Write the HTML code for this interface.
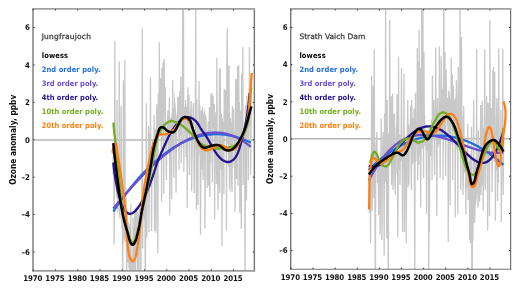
<!DOCTYPE html>
<html><head><meta charset="utf-8"><title>Ozone anomaly trends</title>
<style>
html,body{margin:0;padding:0;background:#fff;}
body{width:520px;height:290px;overflow:hidden;}
svg{display:block;}
text{font-family:"DejaVu Sans Condensed","DejaVu Sans","Liberation Sans",sans-serif;font-stretch:condensed;}
.tl{font-size:7.8px;font-weight:bold;fill:#111;}
.yl{font-size:8.2px;font-weight:bold;fill:#111;}
.tt{font-family:"DejaVu Sans","Liberation Sans",sans-serif;font-stretch:normal;font-size:7.5px;fill:#383838;stroke:#383838;stroke-width:0.25px;}
.lg{font-size:7.5px;font-weight:bold;}
</style></head><body>
<svg width="520" height="290" viewBox="0 0 520 290">
<rect width="520" height="290" fill="#fff"/>
<clipPath id="cL"><rect x="33.0" y="8.9" width="221.35" height="261.95000000000005"/></clipPath>
<g clip-path="url(#cL)">
<line x1="33.0" x2="254.35" y1="140.05" y2="140.05" stroke="#b6b6b6" stroke-width="1.5"/>
<path d="M113.00,174.6 L113.37,153.7 L113.74,152.0 L114.11,244.7 L114.48,162.3 L114.85,40.7 L115.22,165.4 L115.60,151.1 L115.97,170.9 L116.34,159.7 L116.71,197.4 L117.08,100.0 L117.45,200.0 L117.82,212.2 L118.19,180.8 L118.56,196.8 L118.93,178.3 L119.30,61.6 L119.67,214.2 L120.05,218.4 L120.42,178.2 L120.79,208.8 L121.16,106.0 L121.53,200.4 L121.90,228.9 L122.27,197.4 L122.64,300.0 L123.01,220.5 L123.38,80.2 L123.75,224.8 L124.12,234.6 L124.50,230.0 L124.87,60.1 L125.24,237.3 L125.61,241.7 L125.98,187.9 L126.35,246.2 L126.72,272.0 L127.09,210.1 L127.46,237.5 L127.83,262.7 L128.20,221.7 L128.57,245.1 L128.95,268.4 L129.32,226.1 L129.69,300.0 L130.06,224.0 L130.43,245.6 L130.80,203.8 L131.17,300.0 L131.54,262.8 L131.91,260.7 L132.28,265.2 L132.65,300.0 L133.03,217.6 L133.40,264.9 L133.77,227.0 L134.14,276.0 L134.51,230.2 L134.88,208.5 L135.25,300.0 L135.62,215.7 L135.99,245.2 L136.36,206.6 L136.73,223.2 L137.10,230.1 L137.47,300.0 L137.85,212.2 L138.22,220.6 L138.59,263.0 L138.96,300.0 L139.33,208.2 L139.70,218.0 L140.07,252.6 L140.44,208.4 L140.81,300.0 L141.18,228.1 L141.55,205.8 L141.93,185.6 L142.30,28.3 L142.67,248.6 L143.04,198.7 L143.41,190.9 L143.78,218.3 L144.15,194.8 L144.52,220.0 L144.89,199.9 L145.26,300.0 L145.63,232.0 L146.00,209.4 L146.38,103.5 L146.75,237.8 L147.12,203.5 L147.49,174.2 L147.86,193.6 L148.23,174.7 L148.60,126.0 L148.97,232.0 L149.34,181.4 L149.71,133.9 L150.08,186.2 L150.45,77.6 L150.82,160.5 L151.20,150.6 L151.57,231.0 L151.94,164.0 L152.31,168.2 L152.68,140.0 L153.05,166.1 L153.42,142.8 L153.79,160.1 L154.16,115.0 L154.53,231.0 L154.90,128.4 L155.28,155.6 L155.65,129.6 L156.02,233.0 L156.39,148.7 L156.76,104.3 L157.13,159.9 L157.50,120.3 L157.87,253.3 L158.24,93.4 L158.61,100.0 L158.98,136.5 L159.35,42.2 L159.72,124.7 L160.10,135.9 L160.47,114.6 L160.84,77.9 L161.21,121.6 L161.58,202.0 L161.95,68.3 L162.32,138.7 L162.69,139.4 L163.06,62.1 L163.43,117.2 L163.80,194.3 L164.18,59.0 L164.55,98.6 L164.92,111.3 L165.29,87.2 L165.66,134.5 L166.03,152.7 L166.40,180.0 L166.77,145.0 L167.14,140.3 L167.51,125.3 L167.88,110.5 L168.25,120.2 L168.62,148.1 L169.00,151.6 L169.37,97.3 L169.74,215.2 L170.11,129.0 L170.48,141.8 L170.85,117.5 L171.22,128.6 L171.59,199.0 L171.96,113.2 L172.33,148.0 L172.70,79.8 L173.07,139.5 L173.45,108.2 L173.82,178.0 L174.19,135.3 L174.56,101.2 L174.93,104.7 L175.30,109.7 L175.67,138.4 L176.04,192.8 L176.41,141.8 L176.78,117.8 L177.15,115.0 L177.53,131.4 L177.90,96.6 L178.27,102.1 L178.64,97.3 L179.01,170.0 L179.38,135.8 L179.75,91.3 L180.12,135.5 L180.49,109.8 L180.86,76.4 L181.23,163.0 L181.60,138.3 L181.98,138.9 L182.35,111.8 L182.72,-20.0 L183.09,106.4 L183.46,-20.0 L183.83,172.0 L184.20,112.3 L184.57,124.0 L184.94,107.0 L185.31,132.8 L185.68,100.0 L186.05,157.0 L186.43,113.2 L186.80,106.5 L187.17,208.3 L187.54,123.6 L187.91,87.0 L188.28,129.2 L188.65,134.2 L189.02,94.9 L189.39,175.0 L189.76,116.7 L190.13,131.6 L190.50,114.0 L190.88,111.6 L191.25,101.0 L191.62,191.2 L191.99,161.4 L192.36,136.0 L192.73,135.5 L193.10,109.0 L193.47,103.0 L193.84,140.6 L194.21,193.0 L194.58,143.9 L194.95,128.6 L195.32,148.6 L195.70,-20.0 L196.07,142.8 L196.44,209.8 L196.81,99.3 L197.18,142.6 L197.55,128.0 L197.92,205.0 L198.29,120.9 L198.66,155.4 L199.03,81.0 L199.40,133.7 L199.78,104.9 L200.15,151.5 L200.52,234.7 L200.89,155.1 L201.26,110.5 L201.63,169.2 L202.00,139.7 L202.37,106.9 L202.74,166.6 L203.11,180.0 L203.48,116.7 L203.85,114.3 L204.23,160.2 L204.60,111.6 L204.97,228.4 L205.34,153.3 L205.71,117.0 L206.08,118.0 L206.45,135.3 L206.82,140.1 L207.19,188.0 L207.56,152.7 L207.93,133.8 L208.30,121.0 L208.68,186.0 L209.05,133.5 L209.42,107.0 L209.79,197.0 L210.16,107.0 L210.53,163.2 L210.90,94.0 L211.27,116.9 L211.64,94.0 L212.01,94.0 L212.38,182.0 L212.75,97.0 L213.12,97.0 L213.50,128.4 L213.87,116.4 L214.24,104.0 L214.61,219.4 L214.98,140.8 L215.35,162.6 L215.72,112.3 L216.09,149.4 L216.46,184.0 L216.83,57.8 L217.20,149.1 L217.57,132.5 L217.95,209.8 L218.32,177.9 L218.69,184.8 L219.06,151.9 L219.43,68.3 L219.80,193.0 L220.17,68.3 L220.54,113.0 L220.91,169.0 L221.28,134.1 L221.65,114.0 L222.03,246.3 L222.40,118.6 L222.77,156.9 L223.14,169.9 L223.51,121.5 L223.88,194.0 L224.25,89.0 L224.62,129.6 L224.99,91.0 L225.36,91.0 L225.73,133.0 L226.10,91.0 L226.48,230.8 L226.85,66.0 L227.22,28.3 L227.59,121.5 L227.96,143.7 L228.33,65.5 L228.70,167.0 L229.07,65.5 L229.44,188.0 L229.81,189.2 L230.18,157.4 L230.55,118.0 L230.93,153.0 L231.30,122.8 L231.67,184.6 L232.04,192.0 L232.41,105.9 L232.78,166.6 L233.15,124.3 L233.52,108.8 L233.89,139.3 L234.26,129.8 L234.63,151.2 L235.00,212.1 L235.38,127.9 L235.75,79.7 L236.12,79.7 L236.49,179.0 L236.86,79.7 L237.23,108.2 L237.60,66.2 L237.97,186.0 L238.34,66.2 L238.71,66.2 L239.08,145.5 L239.45,101.9 L239.82,212.9 L240.20,110.5 L240.57,162.0 L240.94,110.2 L241.31,229.0 L241.68,74.5 L242.05,74.5 L242.42,130.6 L242.79,46.9 L243.16,185.0 L243.53,127.1 L243.90,149.3 L244.28,135.2 L244.65,122.3 L245.02,300.0 L245.39,105.4 L245.76,115.3 L246.13,109.0 L246.50,200.5 L246.87,95.6 L247.24,104.6 L247.61,113.4 L247.98,111.7 L248.35,180.0 L248.72,105.1 L249.10,126.7 L249.47,46.9 L249.84,119.9 L250.21,89.5 L250.58,175.0 L250.95,134.7 L251.32,81.3" stroke="#c8c8c8" stroke-width="1.3" fill="none" stroke-linejoin="miter" stroke-miterlimit="20"/>
<path d="M113.3,211.5 L114.5,209.8 L115.6,208.1 L116.8,206.4 L117.9,204.7 L119.1,203.1 L120.2,201.5 L121.4,199.9 L122.5,198.3 L123.7,196.7 L124.9,195.2 L126.0,193.6 L127.2,192.1 L128.3,190.6 L129.5,189.2 L130.6,187.7 L131.8,186.3 L132.9,184.9 L134.1,183.5 L135.3,182.1 L136.4,180.8 L137.6,179.4 L138.7,178.1 L139.9,176.8 L141.0,175.6 L142.2,174.3 L143.3,173.1 L144.5,171.9 L145.7,170.7 L146.8,169.5 L148.0,168.3 L149.1,167.2 L150.3,166.1 L151.4,165.0 L152.6,163.9 L153.7,162.8 L154.9,161.8 L156.1,160.8 L157.2,159.8 L158.4,158.8 L159.5,157.8 L160.7,156.9 L161.8,155.9 L163.0,155.0 L164.1,154.1 L165.3,153.3 L166.5,152.4 L167.6,151.6 L168.8,150.8 L169.9,150.0 L171.1,149.2 L172.2,148.5 L173.4,147.7 L174.5,147.0 L175.7,146.3 L176.9,145.7 L178.0,145.0 L179.2,144.4 L180.3,143.7 L181.5,143.1 L182.6,142.6 L183.8,142.0 L184.9,141.5 L186.1,140.9 L187.2,140.4 L188.4,140.0 L189.6,139.5 L190.7,139.1 L191.9,138.6 L193.0,138.2 L194.2,137.8 L195.3,137.5 L196.5,137.1 L197.6,136.8 L198.8,136.5 L200.0,136.2 L201.1,135.9 L202.3,135.7 L203.4,135.5 L204.6,135.2 L205.7,135.1 L206.9,134.9 L208.0,134.7 L209.2,134.6 L210.4,134.5 L211.5,134.4 L212.7,134.3 L213.8,134.2 L215.0,134.2 L216.1,134.2 L217.3,134.2 L218.4,134.2 L219.6,134.3 L220.8,134.3 L221.9,134.4 L223.1,134.5 L224.2,134.6 L225.4,134.7 L226.5,134.9 L227.7,135.1 L228.8,135.3 L230.0,135.5 L231.2,135.7 L232.3,136.0 L233.5,136.2 L234.6,136.5 L235.8,136.8 L236.9,137.2 L238.1,137.5 L239.2,137.9 L240.4,138.3 L241.6,138.7 L242.7,139.1 L243.9,139.6 L245.0,140.0 L246.2,140.5 L247.3,141.0 L248.5,141.5 L249.6,142.1 L250.8,142.6" stroke="#1f6fe0" stroke-width="2.3" fill="none" stroke-linejoin="round" stroke-linecap="butt"/>
<path d="M113.3,208.4 L114.5,207.0 L115.6,205.7 L116.8,204.3 L117.9,202.9 L119.1,201.6 L120.2,200.2 L121.4,198.9 L122.5,197.6 L123.7,196.2 L124.9,194.9 L126.0,193.6 L127.2,192.3 L128.3,191.0 L129.5,189.7 L130.6,188.4 L131.8,187.1 L132.9,185.8 L134.1,184.6 L135.3,183.3 L136.4,182.1 L137.6,180.8 L138.7,179.6 L139.9,178.4 L141.0,177.2 L142.2,176.0 L143.3,174.8 L144.5,173.6 L145.7,172.4 L146.8,171.3 L148.0,170.1 L149.1,169.0 L150.3,167.9 L151.4,166.7 L152.6,165.6 L153.7,164.6 L154.9,163.5 L156.1,162.4 L157.2,161.4 L158.4,160.4 L159.5,159.3 L160.7,158.3 L161.8,157.4 L163.0,156.4 L164.1,155.4 L165.3,154.5 L166.5,153.6 L167.6,152.6 L168.8,151.8 L169.9,150.9 L171.1,150.0 L172.2,149.2 L173.4,148.4 L174.5,147.5 L175.7,146.8 L176.9,146.0 L178.0,145.2 L179.2,144.5 L180.3,143.8 L181.5,143.1 L182.6,142.4 L183.8,141.8 L184.9,141.1 L186.1,140.5 L187.2,139.9 L188.4,139.3 L189.6,138.8 L190.7,138.2 L191.9,137.7 L193.0,137.2 L194.2,136.8 L195.3,136.3 L196.5,135.9 L197.6,135.5 L198.8,135.1 L200.0,134.8 L201.1,134.5 L202.3,134.2 L203.4,133.9 L204.6,133.6 L205.7,133.4 L206.9,133.2 L208.0,133.0 L209.2,132.9 L210.4,132.8 L211.5,132.7 L212.7,132.6 L213.8,132.5 L215.0,132.5 L216.1,132.5 L217.3,132.6 L218.4,132.6 L219.6,132.7 L220.8,132.8 L221.9,133.0 L223.1,133.2 L224.2,133.4 L225.4,133.6 L226.5,133.9 L227.7,134.2 L228.8,134.5 L230.0,134.9 L231.2,135.2 L232.3,135.7 L233.5,136.1 L234.6,136.6 L235.8,137.1 L236.9,137.7 L238.1,138.2 L239.2,138.8 L240.4,139.5 L241.6,140.2 L242.7,140.9 L243.9,141.6 L245.0,142.4 L246.2,143.2 L247.3,144.1 L248.5,145.0 L249.6,145.9 L250.8,146.8" stroke="#6a4fd0" stroke-width="2.3" fill="none" stroke-linejoin="round" stroke-linecap="butt"/>
<path d="M113.3,162.5 L113.4,163.2 L113.4,163.9 L113.5,164.6 L113.6,165.3 L113.7,166.0 L113.7,166.7 L113.8,167.4 L113.9,168.1 L114.0,168.8 L114.1,169.5 L114.2,170.2 L114.2,170.9 L114.3,171.6 L114.4,172.3 L114.5,173.0 L114.6,173.7 L114.7,174.3 L114.8,175.0 L114.9,175.7 L115.0,176.4 L115.1,177.1 L115.2,177.8 L115.3,178.5 L115.4,179.2 L115.6,179.9 L115.7,180.6 L115.8,181.3 L115.9,182.0 L116.0,182.7 L116.2,183.4 L116.3,184.0 L116.4,184.7 L116.6,185.4 L116.7,186.1 L116.8,186.8 L117.0,187.5 L117.1,188.2 L117.3,188.9 L117.4,189.5 L117.6,190.2 L117.7,190.9 L117.9,191.6 L118.1,192.3 L118.2,193.0 L118.4,193.6 L118.6,194.3 L118.8,195.0 L119.0,195.7 L119.1,196.4 L119.3,197.0 L119.5,197.7 L119.7,198.4 L119.9,199.1 L120.2,199.7 L120.4,200.4 L120.6,201.1 L120.8,201.7 L121.0,202.4 L121.3,203.1 L121.5,203.7 L121.8,204.4 L122.0,205.0 L122.3,205.7 L122.5,206.3 L122.8,207.0 L123.1,207.6 L123.4,208.2 L123.8,208.8 L124.1,209.4 L124.5,210.0 L124.9,210.6 L125.4,211.2 L125.9,211.7 L126.4,212.2 L127.0,212.7 L127.6,213.1 L128.3,213.4 L128.9,213.7 L129.6,213.8 L130.3,213.8 L131.0,213.7 L131.6,213.5 L132.3,213.2 L132.9,212.8 L133.5,212.4 L134.1,212.0 L134.7,211.6 L135.2,211.1 L135.7,210.6 L136.1,210.1 L136.6,209.5 L137.0,209.0 L137.5,208.4 L137.9,207.9 L138.3,207.3 L138.7,206.8 L139.1,206.2 L139.5,205.6 L139.9,205.0 L140.3,204.4 L140.6,203.8 L141.0,203.2 L141.3,202.6 L141.7,202.0 L142.0,201.4 L142.4,200.7 L142.7,200.1 L143.0,199.5 L143.4,198.9 L143.7,198.2 L144.0,197.6 L144.3,197.0 L144.6,196.4 L144.9,195.7 L145.2,195.1 L145.5,194.5 L145.8,193.8 L146.1,193.2 L146.4,192.5 L146.7,191.9 L147.0,191.3 L147.3,190.6 L147.6,190.0 L147.8,189.3 L148.1,188.7 L148.4,188.0 L148.6,187.4 L148.9,186.7 L149.2,186.1 L149.4,185.4 L149.7,184.8 L149.9,184.1 L150.2,183.5 L150.4,182.8 L150.7,182.1 L150.9,181.5 L151.2,180.8 L151.4,180.2 L151.7,179.5 L151.9,178.8 L152.1,178.2 L152.3,177.5 L152.6,176.9 L152.8,176.2 L153.0,175.5 L153.2,174.9 L153.5,174.2 L153.7,173.5 L153.9,172.9 L154.1,172.2 L154.3,171.5 L154.5,170.9 L154.8,170.2 L155.0,169.5 L155.2,168.8 L155.4,168.2 L155.6,167.5 L155.8,166.8 L156.0,166.2 L156.3,165.5 L156.5,164.8 L156.7,164.2 L157.0,163.5 L157.2,162.9 L157.4,162.2 L157.7,161.5 L157.9,160.9 L158.2,160.2 L158.4,159.6 L158.7,158.9 L158.9,158.3 L159.2,157.6 L159.5,157.0 L159.7,156.3 L160.0,155.7 L160.3,155.0 L160.6,154.4 L160.8,153.7 L161.1,153.1 L161.4,152.5 L161.7,151.8 L162.0,151.2 L162.3,150.5 L162.6,149.9 L162.8,149.3 L163.1,148.6 L163.4,148.0 L163.7,147.3 L164.0,146.7 L164.3,146.1 L164.6,145.4 L164.9,144.8 L165.2,144.1 L165.5,143.5 L165.7,142.9 L166.0,142.2 L166.3,141.6 L166.6,140.9 L166.9,140.3 L167.2,139.7 L167.5,139.0 L167.8,138.4 L168.1,137.8 L168.4,137.1 L168.7,136.5 L169.1,135.9 L169.4,135.3 L169.7,134.6 L170.1,134.0 L170.4,133.4 L170.8,132.8 L171.1,132.2 L171.5,131.6 L171.9,131.0 L172.2,130.4 L172.6,129.8 L173.0,129.2 L173.4,128.7 L173.8,128.1 L174.2,127.5 L174.6,126.9 L175.0,126.4 L175.4,125.8 L175.9,125.3 L176.3,124.7 L176.8,124.2 L177.2,123.6 L177.7,123.1 L178.2,122.6 L178.7,122.1 L179.2,121.6 L179.7,121.1 L180.2,120.6 L180.7,120.2 L181.3,119.7 L181.9,119.3 L182.4,118.9 L183.0,118.5 L183.7,118.2 L184.3,117.9 L184.9,117.6 L185.6,117.4 L186.3,117.3 L187.0,117.2 L187.7,117.2 L188.4,117.2 L189.1,117.3 L189.8,117.4 L190.5,117.6 L191.2,117.9 L191.8,118.2 L192.4,118.5 L193.0,118.9 L193.6,119.3 L194.1,119.7 L194.7,120.2 L195.2,120.6 L195.7,121.1 L196.2,121.6 L196.7,122.2 L197.1,122.7 L197.5,123.3 L197.9,123.8 L198.3,124.4 L198.7,125.0 L199.0,125.6 L199.4,126.2 L199.7,126.8 L200.1,127.5 L200.4,128.1 L200.8,128.7 L201.2,129.3 L201.6,129.8 L202.0,130.4 L202.4,131.0 L202.8,131.6 L203.2,132.1 L203.6,132.7 L204.1,133.2 L204.5,133.8 L204.9,134.4 L205.3,134.9 L205.7,135.5 L206.1,136.1 L206.5,136.7 L206.8,137.3 L207.2,137.9 L207.6,138.5 L207.9,139.1 L208.3,139.7 L208.6,140.3 L209.0,140.9 L209.3,141.5 L209.7,142.1 L210.0,142.8 L210.3,143.4 L210.7,144.0 L211.0,144.6 L211.3,145.2 L211.7,145.8 L212.0,146.5 L212.4,147.1 L212.7,147.7 L213.1,148.3 L213.4,148.9 L213.8,149.5 L214.2,150.1 L214.5,150.7 L214.9,151.3 L215.3,151.9 L215.7,152.5 L216.1,153.0 L216.5,153.6 L216.9,154.2 L217.3,154.7 L217.7,155.3 L218.2,155.8 L218.6,156.4 L219.1,156.9 L219.6,157.4 L220.0,157.9 L220.6,158.4 L221.1,158.9 L221.6,159.3 L222.2,159.8 L222.8,160.2 L223.4,160.5 L224.0,160.9 L224.7,161.2 L225.4,161.5 L226.0,161.7 L226.7,161.9 L227.4,162.0 L228.1,162.0 L228.8,162.0 L229.5,161.8 L230.2,161.6 L230.8,161.4 L231.5,161.0 L232.1,160.6 L232.7,160.2 L233.2,159.8 L233.8,159.3 L234.3,158.8 L234.7,158.2 L235.2,157.7 L235.6,157.1 L236.0,156.5 L236.3,155.9 L236.7,155.3 L237.0,154.7 L237.3,154.0 L237.6,153.4 L237.9,152.7 L238.1,152.1 L238.4,151.4 L238.6,150.8 L238.9,150.1 L239.1,149.4 L239.3,148.8 L239.5,148.1 L239.7,147.4 L239.9,146.8 L240.1,146.1 L240.3,145.4 L240.5,144.7 L240.7,144.1 L240.9,143.4 L241.1,142.7 L241.2,142.0 L241.4,141.4 L241.6,140.7 L241.8,140.0 L242.0,139.3 L242.2,138.6 L242.3,138.0 L242.5,137.3 L242.7,136.6 L242.9,135.9 L243.1,135.2 L243.2,134.6 L243.4,133.9 L243.6,133.2 L243.8,132.5 L243.9,131.8 L244.1,131.2 L244.3,130.5 L244.4,129.8 L244.6,129.1 L244.7,128.4 L244.9,127.7 L245.0,127.1 L245.2,126.4 L245.3,125.7 L245.4,125.0 L245.6,124.3 L245.7,123.6 L245.8,122.9 L245.9,122.2 L246.1,121.5 L246.2,120.8 L246.3,120.2 L246.4,119.5 L246.5,118.8 L246.6,118.1 L246.7,117.4 L246.8,116.7 L247.0,116.0 L247.1,115.3 L247.2,114.6 L247.3,113.9 L247.4,113.2 L247.5,112.5 L247.6,111.8 L247.7,111.1 L247.8,110.4 L247.9,109.7 L248.0,109.0 L248.1,108.4 L248.1,107.7 L248.2,107.0 L248.3,106.3 L248.4,105.6 L248.5,104.9 L248.6,104.2 L248.7,103.5 L248.7,102.8 L248.8,102.1 L248.9,101.4 L249.0,100.7 L249.1,100.0 L249.1,99.3 L249.2,98.6 L249.3,97.9 L249.3,97.2 L249.4,96.5 L249.5,95.8 L249.5,95.1 L249.6,94.4 L249.6,93.7 L249.7,93.0" stroke="#24128f" stroke-width="2.3" fill="none" stroke-linejoin="round" stroke-linecap="butt"/>
<path d="M113.5,122.5 L113.5,123.2 L113.6,123.9 L113.6,124.6 L113.6,125.3 L113.7,126.0 L113.7,126.7 L113.8,127.4 L113.9,128.1 L113.9,128.8 L114.0,129.5 L114.1,130.2 L114.1,130.9 L114.2,131.6 L114.3,132.3 L114.4,133.0 L114.4,133.7 L114.5,134.4 L114.6,135.1 L114.7,135.8 L114.8,136.5 L114.9,137.2 L115.0,137.9 L115.0,138.6 L115.1,139.3 L115.2,139.9 L115.3,140.6 L115.4,141.3 L115.5,142.0 L115.5,142.7 L115.6,143.4 L115.7,144.1 L115.8,144.8 L115.9,145.5 L115.9,146.2 L116.0,146.9 L116.1,147.6 L116.1,148.3 L116.2,149.0 L116.2,149.7 L116.3,150.4 L116.3,151.1 L116.4,151.8 L116.5,152.5 L116.5,153.2 L116.6,153.9 L116.6,154.6 L116.7,155.3 L116.7,156.0 L116.8,156.7 L116.8,157.4 L116.9,158.1 L117.0,158.8 L117.0,159.5 L117.1,160.2 L117.1,160.9 L117.2,161.6 L117.3,162.3 L117.3,163.0 L117.4,163.7 L117.5,164.4 L117.6,165.1 L117.6,165.8 L117.7,166.5 L117.8,167.2 L117.8,167.9 L117.9,168.6 L118.0,169.3 L118.1,170.0 L118.1,170.7 L118.2,171.4 L118.3,172.1 L118.4,172.8 L118.4,173.5 L118.5,174.2 L118.6,174.9 L118.7,175.5 L118.7,176.2 L118.8,176.9 L118.9,177.6 L119.0,178.3 L119.0,179.0 L119.1,179.7 L119.2,180.4 L119.2,181.1 L119.3,181.8 L119.4,182.5 L119.5,183.2 L119.5,183.9 L119.6,184.6 L119.7,185.3 L119.7,186.0 L119.8,186.7 L119.9,187.4 L119.9,188.1 L120.0,188.8 L120.1,189.5 L120.1,190.2 L120.2,190.9 L120.3,191.6 L120.3,192.3 L120.4,193.0 L120.5,193.7 L120.5,194.4 L120.6,195.1 L120.7,195.8 L120.7,196.5 L120.8,197.2 L120.9,197.9 L120.9,198.6 L121.0,199.3 L121.1,200.0 L121.1,200.7 L121.2,201.4 L121.3,202.1 L121.3,202.8 L121.4,203.5 L121.5,204.2 L121.6,204.9 L121.7,205.6 L121.7,206.3 L121.8,207.0 L121.9,207.7 L122.0,208.4 L122.1,209.0 L122.2,209.7 L122.3,210.4 L122.4,211.1 L122.6,211.8 L122.7,212.5 L122.8,213.2 L122.9,213.9 L123.1,214.6 L123.2,215.2 L123.4,215.9 L123.5,216.6 L123.7,217.3 L123.8,218.0 L124.0,218.6 L124.2,219.3 L124.3,220.0 L124.5,220.7 L124.7,221.4 L124.9,222.0 L125.1,222.7 L125.2,223.4 L125.4,224.1 L125.6,224.8 L125.8,225.4 L126.0,226.1 L126.2,226.8 L126.5,227.5 L126.7,228.2 L126.9,228.9 L127.1,229.5 L127.3,230.2 L127.5,230.9 L127.7,231.6 L127.9,232.2 L128.2,232.9 L128.4,233.6 L128.6,234.2 L128.8,234.9 L129.0,235.6 L129.2,236.2 L129.4,236.8 L129.5,237.5 L129.7,238.1 L129.9,238.8 L130.2,239.4 L130.4,240.0 L130.7,240.7 L131.1,241.4 L131.6,242.0 L132.1,242.7 L132.6,243.0 L133.1,242.9 L133.6,242.4 L134.1,241.6 L134.5,240.9 L134.9,240.2 L135.2,239.5 L135.5,238.9 L135.7,238.2 L135.9,237.6 L136.1,236.9 L136.3,236.3 L136.4,235.7 L136.6,235.0 L136.8,234.4 L136.9,233.8 L137.1,233.1 L137.3,232.4 L137.5,231.8 L137.6,231.1 L137.8,230.4 L138.0,229.7 L138.2,229.1 L138.4,228.4 L138.6,227.7 L138.8,227.0 L138.9,226.3 L139.1,225.6 L139.3,224.9 L139.5,224.2 L139.6,223.5 L139.8,222.8 L139.9,222.1 L140.1,221.4 L140.2,220.7 L140.3,220.1 L140.5,219.4 L140.6,218.7 L140.8,218.0 L140.9,217.3 L141.0,216.6 L141.1,215.9 L141.3,215.2 L141.4,214.6 L141.5,213.9 L141.7,213.2 L141.8,212.5 L141.9,211.8 L142.1,211.1 L142.2,210.5 L142.4,209.8 L142.5,209.1 L142.7,208.4 L142.8,207.7 L143.0,207.0 L143.1,206.4 L143.3,205.7 L143.4,205.0 L143.6,204.3 L143.8,203.6 L143.9,202.9 L144.1,202.3 L144.2,201.6 L144.4,200.9 L144.6,200.2 L144.7,199.5 L144.9,198.8 L145.1,198.2 L145.2,197.5 L145.4,196.8 L145.5,196.1 L145.7,195.4 L145.9,194.7 L146.0,194.1 L146.2,193.4 L146.3,192.7 L146.5,192.0 L146.6,191.3 L146.8,190.6 L146.9,189.9 L147.1,189.3 L147.2,188.6 L147.4,187.9 L147.5,187.2 L147.7,186.5 L147.8,185.8 L148.0,185.1 L148.1,184.5 L148.2,183.8 L148.4,183.1 L148.5,182.4 L148.7,181.7 L148.8,181.0 L148.9,180.3 L149.1,179.6 L149.2,179.0 L149.4,178.3 L149.5,177.6 L149.6,176.9 L149.8,176.2 L149.9,175.5 L150.0,174.8 L150.2,174.1 L150.3,173.5 L150.4,172.8 L150.6,172.1 L150.7,171.4 L150.8,170.7 L151.0,170.0 L151.1,169.3 L151.2,168.6 L151.4,167.9 L151.5,167.3 L151.6,166.6 L151.8,165.9 L151.9,165.2 L152.0,164.5 L152.2,163.8 L152.3,163.1 L152.4,162.4 L152.5,161.7 L152.7,161.1 L152.8,160.4 L152.9,159.7 L153.1,159.0 L153.2,158.3 L153.3,157.6 L153.5,156.9 L153.6,156.2 L153.7,155.5 L153.9,154.9 L154.0,154.2 L154.1,153.5 L154.3,152.8 L154.4,152.1 L154.5,151.4 L154.7,150.7 L154.8,150.0 L154.9,149.3 L155.1,148.7 L155.2,148.0 L155.3,147.3 L155.5,146.6 L155.6,145.9 L155.7,145.2 L155.9,144.5 L156.0,143.8 L156.2,143.2 L156.3,142.5 L156.5,141.8 L156.7,141.1 L156.9,140.4 L157.0,139.7 L157.2,139.1 L157.4,138.4 L157.6,137.7 L157.8,137.1 L158.1,136.4 L158.3,135.7 L158.6,135.1 L158.8,134.4 L159.1,133.8 L159.4,133.1 L159.6,132.5 L160.0,131.9 L160.3,131.2 L160.6,130.6 L160.9,130.0 L161.3,129.4 L161.7,128.8 L162.0,128.2 L162.4,127.6 L162.8,127.0 L163.3,126.4 L163.7,125.9 L164.2,125.3 L164.6,124.8 L165.1,124.3 L165.7,123.8 L166.2,123.4 L166.8,122.9 L167.3,122.5 L167.9,122.2 L168.6,121.8 L169.2,121.5 L169.9,121.3 L170.6,121.1 L171.3,121.0 L172.0,121.0 L172.7,121.1 L173.3,121.3 L174.0,121.6 L174.7,121.8 L175.3,122.1 L176.0,122.4 L176.6,122.7 L177.2,123.0 L177.9,123.3 L178.5,123.6 L179.1,123.9 L179.8,124.2 L180.4,124.5 L181.0,124.9 L181.6,125.2 L182.1,125.6 L182.7,126.0 L183.3,126.4 L183.8,126.9 L184.4,127.3 L184.9,127.7 L185.5,128.2 L186.0,128.7 L186.6,129.1 L187.1,129.6 L187.6,130.1 L188.1,130.6 L188.6,131.1 L189.1,131.5 L189.6,132.0 L190.1,132.5 L190.6,133.0 L191.1,133.5 L191.6,134.0 L192.1,134.5 L192.6,135.0 L193.1,135.5 L193.5,136.0 L194.0,136.6 L194.5,137.1 L194.9,137.6 L195.4,138.2 L195.9,138.7 L196.3,139.2 L196.8,139.8 L197.2,140.3 L197.7,140.8 L198.2,141.3 L198.7,141.8 L199.2,142.3 L199.7,142.8 L200.3,143.2 L200.8,143.6 L201.4,144.0 L202.0,144.4 L202.6,144.7 L203.2,145.1 L203.9,145.4 L204.5,145.7 L205.2,145.9 L205.8,146.2 L206.5,146.4 L207.1,146.7 L207.8,146.9 L208.5,147.1 L209.2,147.2 L209.9,147.4 L210.5,147.5 L211.2,147.7 L211.9,147.8 L212.6,148.0 L213.3,148.1 L214.0,148.2 L214.7,148.3 L215.4,148.4 L216.1,148.4 L216.8,148.5 L217.5,148.5 L218.2,148.5 L218.9,148.5 L219.6,148.5 L220.3,148.5 L221.0,148.4 L221.7,148.4 L222.4,148.3 L223.1,148.2 L223.8,148.1 L224.5,148.0 L225.2,147.9 L225.9,147.8 L226.5,147.7 L227.2,147.6 L227.9,147.4 L228.6,147.3 L229.3,147.2 L230.0,147.0 L230.7,146.8 L231.4,146.7 L232.1,146.5 L232.8,146.3 L233.4,146.1 L234.1,145.8 L234.7,145.5 L235.3,145.2 L235.9,144.9 L236.5,144.5 L237.0,144.0 L237.5,143.6 L238.0,143.1 L238.5,142.6 L239.0,142.0 L239.4,141.5 L239.8,140.9 L240.2,140.3 L240.6,139.7 L241.0,139.1 L241.4,138.4 L241.7,137.8 L242.1,137.2 L242.5,136.6 L242.8,135.9 L243.1,135.3 L243.5,134.7 L243.8,134.1 L244.1,133.4 L244.4,132.8 L244.7,132.1 L245.0,131.5 L245.2,130.9 L245.5,130.2 L245.7,129.6 L246.0,128.9 L246.2,128.3 L246.4,127.6 L246.7,127.0 L246.9,126.3 L247.1,125.6 L247.2,125.0 L247.4,124.3 L247.6,123.6 L247.7,122.9 L247.9,122.2 L248.0,121.6 L248.2,120.9 L248.3,120.2 L248.4,119.5 L248.5,118.8 L248.6,118.1 L248.7,117.4 L248.8,116.7 L248.9,116.0 L249.0,115.3 L249.1,114.6 L249.1,113.9 L249.2,113.2 L249.3,112.5 L249.3,111.8 L249.4,111.1 L249.4,110.3 L249.5,109.6 L249.5,108.9 L249.6,108.2 L249.6,107.5 L249.7,106.8 L249.7,106.1 L249.7,105.4 L249.8,104.6 L249.8,103.9 L249.8,103.2 L249.9,102.5 L249.9,101.8 L250.0,101.1 L250.0,100.4 L250.0,99.7 L250.1,99.0 L250.1,98.3 L250.2,97.6 L250.2,96.9 L250.3,96.2 L250.4,95.5 L250.4,94.8 L250.5,94.1 L250.5,93.4 L250.6,92.7 L250.7,92.0 L250.8,91.4 L250.9,90.7 L251.0,90.0 L251.1,89.3 L251.2,88.7 L251.3,88.0" stroke="#72ad1e" stroke-width="2.3" fill="none" stroke-linejoin="round" stroke-linecap="butt"/>
<path d="M113.0,152.0 L112.7,152.3 L112.6,152.1 L112.6,151.7 L112.7,151.0 L112.8,150.2 L113.1,149.1 L113.4,148.1 L113.8,147.0 L114.1,145.9 L114.5,145.0 L114.9,144.2 L115.2,143.7 L115.6,143.5 L115.8,143.6 L116.1,143.9 L116.3,144.5 L116.4,145.3 L116.6,146.2 L116.7,147.1 L116.8,148.1 L116.9,149.1 L117.0,150.1 L117.1,151.0 L117.2,151.8 L117.3,152.6 L117.4,153.3 L117.5,154.0 L117.6,154.7 L117.7,155.4 L117.8,156.0 L117.9,156.6 L118.0,157.2 L118.1,157.8 L118.2,158.4 L118.3,159.0 L118.4,159.6 L118.5,160.2 L118.6,160.8 L118.7,161.4 L118.8,162.1 L119.0,162.7 L119.1,163.4 L119.2,164.1 L119.3,164.7 L119.4,165.4 L119.5,166.1 L119.6,166.8 L119.7,167.5 L119.8,168.3 L119.9,169.0 L120.0,169.7 L120.1,170.4 L120.2,171.1 L120.4,171.9 L120.5,172.6 L120.6,173.3 L120.7,174.0 L120.8,174.8 L120.9,175.5 L121.0,176.2 L121.1,176.9 L121.2,177.6 L121.3,178.3 L121.4,179.0 L121.5,179.7 L121.6,180.4 L121.6,181.1 L121.7,181.8 L121.8,182.5 L121.9,183.2 L122.0,183.9 L122.1,184.6 L122.2,185.3 L122.3,186.0 L122.4,186.7 L122.5,187.4 L122.6,188.1 L122.7,188.8 L122.8,189.4 L122.8,190.1 L122.9,190.8 L123.0,191.5 L123.1,192.2 L123.2,192.9 L123.3,193.6 L123.4,194.3 L123.5,194.9 L123.6,195.6 L123.7,196.3 L123.8,197.0 L123.9,197.7 L124.0,198.4 L124.1,199.1 L124.2,199.8 L124.3,200.5 L124.3,201.2 L124.4,201.9 L124.5,202.6 L124.6,203.3 L124.7,204.0 L124.8,204.7 L124.9,205.4 L125.0,206.1 L125.1,206.8 L125.1,207.5 L125.2,208.2 L125.3,208.9 L125.4,209.6 L125.5,210.3 L125.5,211.0 L125.6,211.7 L125.7,212.4 L125.7,213.1 L125.8,213.7 L125.9,214.4 L125.9,215.1 L126.0,215.8 L126.0,216.5 L126.1,217.2 L126.1,217.9 L126.1,218.6 L126.2,219.3 L126.2,220.0 L126.3,220.7 L126.3,221.4 L126.3,222.1 L126.3,222.8 L126.4,223.5 L126.4,224.2 L126.4,224.9 L126.5,225.6 L126.5,226.3 L126.5,227.0 L126.5,227.7 L126.6,228.4 L126.6,229.1 L126.6,229.8 L126.6,230.5 L126.7,231.2 L126.7,231.9 L126.7,232.6 L126.8,233.3 L126.8,234.0 L126.8,234.7 L126.9,235.4 L126.9,236.1 L127.0,236.8 L127.0,237.5 L127.1,238.2 L127.1,239.0 L127.2,239.7 L127.2,240.4 L127.3,241.1 L127.4,241.8 L127.4,242.5 L127.5,243.2 L127.6,243.9 L127.7,244.6 L127.7,245.4 L127.8,246.1 L127.9,246.8 L128.0,247.5 L128.1,248.2 L128.2,248.8 L128.3,249.5 L128.4,250.2 L128.4,250.9 L128.5,251.5 L128.6,252.2 L128.7,252.9 L128.8,253.5 L128.9,254.2 L129.1,254.8 L129.2,255.5 L129.4,256.1 L129.6,256.8 L129.9,257.5 L130.1,258.2 L130.5,258.9 L130.9,259.6 L131.3,260.4 L131.8,261.0 L132.3,261.3 L132.8,261.4 L133.4,261.0 L133.9,260.5 L134.3,259.8 L134.7,259.0 L135.1,258.3 L135.4,257.6 L135.6,256.9 L135.8,256.3 L136.0,255.6 L136.2,254.9 L136.3,254.3 L136.4,253.6 L136.5,253.0 L136.6,252.3 L136.6,251.7 L136.7,251.0 L136.8,250.3 L137.0,249.6 L137.1,249.0 L137.2,248.3 L137.3,247.6 L137.4,246.9 L137.5,246.2 L137.7,245.5 L137.8,244.8 L137.9,244.1 L138.0,243.4 L138.2,242.7 L138.3,242.0 L138.4,241.3 L138.5,240.6 L138.6,239.9 L138.7,239.2 L138.8,238.5 L138.9,237.8 L139.0,237.1 L139.1,236.4 L139.2,235.7 L139.3,235.0 L139.4,234.3 L139.5,233.6 L139.6,232.9 L139.6,232.2 L139.7,231.5 L139.8,230.8 L139.9,230.1 L139.9,229.4 L140.0,228.7 L140.1,228.0 L140.1,227.3 L140.2,226.6 L140.2,225.9 L140.3,225.2 L140.4,224.5 L140.4,223.8 L140.5,223.1 L140.5,222.4 L140.6,221.7 L140.6,221.0 L140.7,220.3 L140.8,219.6 L140.8,218.9 L140.9,218.2 L140.9,217.5 L141.0,216.8 L141.0,216.1 L141.1,215.4 L141.1,214.7 L141.2,214.0 L141.3,213.3 L141.3,212.6 L141.4,211.9 L141.4,211.3 L141.5,210.6 L141.6,209.9 L141.6,209.2 L141.7,208.5 L141.8,207.8 L141.8,207.1 L141.9,206.4 L142.0,205.7 L142.0,205.0 L142.1,204.3 L142.2,203.6 L142.2,202.9 L142.3,202.2 L142.4,201.5 L142.5,200.8 L142.6,200.1 L142.6,199.4 L142.7,198.7 L142.8,198.0 L142.9,197.3 L143.0,196.6 L143.1,195.9 L143.1,195.2 L143.2,194.5 L143.3,193.8 L143.4,193.1 L143.5,192.4 L143.6,191.7 L143.7,191.0 L143.8,190.3 L143.9,189.6 L144.0,188.9 L144.1,188.2 L144.2,187.6 L144.3,186.9 L144.4,186.2 L144.5,185.5 L144.6,184.8 L144.7,184.1 L144.8,183.4 L144.9,182.7 L145.1,182.0 L145.2,181.3 L145.3,180.6 L145.4,179.9 L145.5,179.2 L145.7,178.5 L145.8,177.8 L145.9,177.1 L146.0,176.5 L146.2,175.8 L146.3,175.1 L146.4,174.4 L146.6,173.7 L146.7,173.0 L146.8,172.3 L147.0,171.6 L147.1,170.9 L147.2,170.2 L147.4,169.6 L147.5,168.9 L147.7,168.2 L147.8,167.5 L148.0,166.8 L148.1,166.1 L148.3,165.4 L148.4,164.7 L148.5,164.1 L148.7,163.4 L148.8,162.7 L149.0,162.0 L149.1,161.3 L149.3,160.6 L149.4,159.9 L149.6,159.3 L149.7,158.6 L149.9,157.9 L150.0,157.2 L150.2,156.5 L150.3,155.8 L150.5,155.2 L150.6,154.5 L150.8,153.8 L150.9,153.1 L151.0,152.4 L151.2,151.7 L151.4,151.1 L151.5,150.4 L151.7,149.7 L151.8,149.0 L152.0,148.3 L152.2,147.7 L152.4,147.0 L152.6,146.3 L152.8,145.6 L153.0,145.0 L153.2,144.3 L153.4,143.6 L153.7,143.0 L154.0,142.3 L154.2,141.7 L154.5,141.0 L154.8,140.4 L155.1,139.7 L155.5,139.1 L155.9,138.4 L156.2,137.8 L156.7,137.2 L157.1,136.7 L157.6,136.2 L158.1,135.7 L158.7,135.3 L159.3,135.0 L159.9,134.7 L160.6,134.5 L161.3,134.4 L162.0,134.3 L162.7,134.3 L163.4,134.3 L164.1,134.3 L164.8,134.3 L165.5,134.2 L166.2,134.1 L166.9,133.9 L167.6,133.7 L168.2,133.4 L168.9,133.1 L169.5,132.8 L170.1,132.4 L170.7,132.1 L171.3,131.7 L171.9,131.3 L172.5,130.9 L173.0,130.4 L173.5,130.0 L174.0,129.5 L174.5,129.0 L174.9,128.4 L175.4,127.9 L175.8,127.3 L176.2,126.7 L176.6,126.2 L177.1,125.6 L177.5,125.0 L177.9,124.5 L178.3,124.0 L178.8,123.4 L179.2,122.9 L179.7,122.4 L180.2,121.9 L180.7,121.3 L181.2,120.8 L181.7,120.3 L182.2,119.8 L182.8,119.3 L183.4,118.9 L184.0,118.6 L184.7,118.5 L185.4,118.5 L186.1,118.6 L186.7,118.9 L187.4,119.2 L187.9,119.7 L188.4,120.2 L188.8,120.8 L189.2,121.4 L189.6,122.0 L189.9,122.6 L190.3,123.2 L190.6,123.9 L190.9,124.5 L191.2,125.1 L191.5,125.8 L191.7,126.4 L192.0,127.1 L192.3,127.7 L192.5,128.4 L192.7,129.0 L193.0,129.7 L193.2,130.4 L193.4,131.0 L193.7,131.7 L193.9,132.3 L194.1,133.0 L194.3,133.7 L194.6,134.3 L194.8,135.0 L195.0,135.6 L195.3,136.3 L195.5,137.0 L195.8,137.6 L196.0,138.3 L196.3,138.9 L196.5,139.6 L196.8,140.2 L197.1,140.8 L197.4,141.5 L197.7,142.1 L198.0,142.8 L198.4,143.4 L198.7,144.0 L199.1,144.6 L199.4,145.3 L199.8,145.9 L200.3,146.4 L200.7,147.0 L201.2,147.5 L201.6,148.1 L202.2,148.5 L202.7,149.0 L203.3,149.3 L203.9,149.7 L204.6,149.9 L205.2,150.2 L205.9,150.3 L206.6,150.3 L207.3,150.3 L208.0,150.2 L208.7,150.1 L209.4,149.9 L210.0,149.6 L210.7,149.3 L211.3,149.0 L211.9,148.6 L212.5,148.2 L213.1,147.9 L213.7,147.5 L214.3,147.1 L215.0,146.7 L215.6,146.4 L216.2,146.1 L216.9,145.8 L217.5,145.6 L218.2,145.4 L218.9,145.3 L219.6,145.2 L220.3,145.2 L221.0,145.3 L221.7,145.4 L222.3,145.6 L223.0,145.9 L223.6,146.2 L224.2,146.5 L224.8,146.9 L225.4,147.3 L226.0,147.7 L226.6,148.1 L227.2,148.4 L227.8,148.8 L228.4,149.1 L229.1,149.4 L229.8,149.6 L230.5,149.7 L231.2,149.8 L231.9,149.8 L232.6,149.7 L233.3,149.6 L233.9,149.3 L234.5,149.0 L235.1,148.6 L235.6,148.1 L236.1,147.6 L236.6,147.0 L237.0,146.5 L237.4,145.9 L237.8,145.3 L238.2,144.7 L238.6,144.1 L238.9,143.5 L239.3,142.9 L239.6,142.3 L239.9,141.6 L240.2,141.0 L240.5,140.4 L240.8,139.7 L241.1,139.1 L241.4,138.5 L241.7,137.8 L241.9,137.2 L242.2,136.5 L242.5,135.9 L242.8,135.2 L243.0,134.6 L243.3,133.9 L243.6,133.3 L243.8,132.6 L244.1,132.0 L244.3,131.3 L244.6,130.6 L244.8,130.0 L245.0,129.3 L245.3,128.7 L245.5,128.0 L245.7,127.3 L245.9,126.6 L246.1,126.0 L246.3,125.3 L246.5,124.6 L246.6,123.9 L246.8,123.3 L246.9,122.6 L247.1,121.9 L247.2,121.2 L247.4,120.5 L247.5,119.8 L247.6,119.1 L247.7,118.4 L247.8,117.7 L247.9,117.1 L248.1,116.4 L248.1,115.7 L248.2,115.0 L248.3,114.3 L248.4,113.6 L248.5,112.9 L248.6,112.2 L248.7,111.5 L248.7,110.8 L248.8,110.1 L248.9,109.4 L248.9,108.7 L249.0,108.0 L249.1,107.3 L249.1,106.6 L249.2,105.9 L249.3,105.2 L249.3,104.5 L249.4,103.8 L249.4,103.1 L249.5,102.4 L249.6,101.7 L249.6,101.0 L249.7,100.3 L249.7,99.6 L249.8,98.9 L249.8,98.2 L249.9,97.5 L250.0,96.8 L250.0,96.1 L250.1,95.4 L250.1,94.7 L250.2,94.0 L250.2,93.3 L250.3,92.6 L250.3,91.9 L250.4,91.2 L250.5,90.5 L250.5,89.8 L250.6,89.1 L250.6,88.4 L250.7,87.7 L250.7,87.0 L250.8,86.3 L250.8,85.6 L250.9,84.9 L250.9,84.2 L251.0,83.5 L251.0,82.8 L251.1,82.1 L251.1,81.4 L251.2,80.7 L251.2,80.0 L251.3,79.3 L251.3,78.6 L251.4,77.9 L251.4,77.2 L251.5,76.5 L251.5,75.8 L251.6,75.1 L251.6,74.4 L251.7,73.7 L251.7,73.0" stroke="#ff7f12" stroke-width="2.3" fill="none" stroke-linejoin="round" stroke-linecap="butt"/>
<path d="M113.3,143.0 L113.4,143.7 L113.4,144.4 L113.5,145.1 L113.6,145.8 L113.6,146.5 L113.7,147.2 L113.8,147.9 L113.8,148.6 L113.9,149.3 L114.0,150.0 L114.0,150.7 L114.1,151.4 L114.2,152.1 L114.3,152.8 L114.3,153.5 L114.4,154.2 L114.5,154.9 L114.6,155.6 L114.6,156.3 L114.7,157.0 L114.8,157.7 L114.9,158.4 L115.0,159.1 L115.0,159.7 L115.1,160.4 L115.2,161.1 L115.3,161.8 L115.4,162.5 L115.4,163.2 L115.5,163.9 L115.6,164.6 L115.7,165.3 L115.8,166.0 L115.9,166.7 L115.9,167.4 L116.0,168.1 L116.1,168.8 L116.2,169.5 L116.3,170.2 L116.4,170.9 L116.5,171.6 L116.6,172.3 L116.6,173.0 L116.7,173.7 L116.8,174.4 L116.9,175.1 L117.0,175.8 L117.1,176.5 L117.2,177.2 L117.3,177.9 L117.4,178.5 L117.5,179.2 L117.5,179.9 L117.6,180.6 L117.7,181.3 L117.8,182.0 L117.9,182.7 L118.0,183.4 L118.1,184.1 L118.2,184.8 L118.3,185.5 L118.4,186.2 L118.5,186.9 L118.6,187.6 L118.7,188.3 L118.8,189.0 L118.9,189.7 L119.0,190.4 L119.1,191.1 L119.1,191.8 L119.2,192.5 L119.3,193.1 L119.4,193.8 L119.5,194.5 L119.6,195.2 L119.7,195.9 L119.8,196.6 L119.9,197.3 L120.0,198.0 L120.1,198.7 L120.2,199.4 L120.3,200.1 L120.4,200.8 L120.5,201.5 L120.6,202.2 L120.7,202.9 L120.8,203.6 L121.0,204.3 L121.1,205.0 L121.2,205.7 L121.3,206.4 L121.4,207.0 L121.5,207.7 L121.6,208.4 L121.8,209.1 L121.9,209.8 L122.0,210.5 L122.1,211.2 L122.3,211.9 L122.4,212.5 L122.5,213.2 L122.7,213.9 L122.8,214.6 L123.0,215.3 L123.1,216.0 L123.3,216.6 L123.4,217.3 L123.6,218.0 L123.7,218.7 L123.9,219.4 L124.1,220.0 L124.2,220.7 L124.4,221.4 L124.6,222.1 L124.8,222.8 L125.0,223.5 L125.1,224.1 L125.3,224.8 L125.5,225.5 L125.7,226.2 L125.9,226.9 L126.1,227.6 L126.3,228.3 L126.5,228.9 L126.7,229.6 L126.9,230.3 L127.1,231.0 L127.3,231.7 L127.5,232.4 L127.7,233.0 L127.9,233.7 L128.1,234.4 L128.3,235.0 L128.4,235.7 L128.6,236.3 L128.7,237.0 L128.9,237.6 L129.0,238.3 L129.2,238.9 L129.4,239.6 L129.6,240.2 L129.8,240.9 L130.1,241.6 L130.4,242.3 L130.8,243.0 L131.3,243.8 L131.8,244.3 L132.3,244.7 L132.8,244.8 L133.3,244.5 L133.8,244.0 L134.3,243.3 L134.7,242.6 L135.1,241.9 L135.4,241.2 L135.7,240.5 L135.9,239.8 L136.1,239.2 L136.3,238.6 L136.5,237.9 L136.7,237.3 L136.8,236.7 L137.0,236.0 L137.2,235.4 L137.3,234.7 L137.5,234.0 L137.6,233.3 L137.8,232.7 L138.0,232.0 L138.1,231.3 L138.3,230.6 L138.4,229.9 L138.6,229.2 L138.7,228.5 L138.9,227.8 L139.0,227.1 L139.2,226.4 L139.3,225.7 L139.5,225.0 L139.6,224.3 L139.7,223.6 L139.8,222.9 L140.0,222.2 L140.1,221.5 L140.2,220.8 L140.3,220.1 L140.4,219.4 L140.5,218.8 L140.6,218.1 L140.8,217.4 L140.9,216.7 L141.0,216.0 L141.1,215.3 L141.2,214.6 L141.3,213.9 L141.5,213.2 L141.6,212.6 L141.7,211.9 L141.8,211.2 L142.0,210.5 L142.1,209.8 L142.2,209.1 L142.4,208.4 L142.5,207.8 L142.6,207.1 L142.8,206.4 L142.9,205.7 L143.1,205.0 L143.2,204.3 L143.4,203.6 L143.5,202.9 L143.6,202.3 L143.8,201.6 L143.9,200.9 L144.1,200.2 L144.2,199.5 L144.4,198.8 L144.5,198.1 L144.7,197.4 L144.8,196.8 L145.0,196.1 L145.1,195.4 L145.3,194.7 L145.4,194.0 L145.6,193.3 L145.7,192.6 L145.8,191.9 L146.0,191.3 L146.1,190.6 L146.3,189.9 L146.4,189.2 L146.5,188.5 L146.7,187.8 L146.8,187.1 L146.9,186.4 L147.1,185.8 L147.2,185.1 L147.4,184.4 L147.5,183.7 L147.6,183.0 L147.7,182.3 L147.9,181.6 L148.0,180.9 L148.1,180.2 L148.3,179.6 L148.4,178.9 L148.5,178.2 L148.6,177.5 L148.8,176.8 L148.9,176.1 L149.0,175.4 L149.1,174.7 L149.3,174.0 L149.4,173.3 L149.5,172.7 L149.6,172.0 L149.8,171.3 L149.9,170.6 L150.0,169.9 L150.1,169.2 L150.2,168.5 L150.4,167.8 L150.5,167.1 L150.6,166.4 L150.7,165.7 L150.8,165.0 L150.9,164.3 L151.0,163.7 L151.1,163.0 L151.3,162.3 L151.4,161.6 L151.5,160.9 L151.6,160.2 L151.7,159.5 L151.8,158.8 L151.9,158.1 L152.0,157.4 L152.1,156.7 L152.2,156.0 L152.3,155.3 L152.5,154.7 L152.6,154.0 L152.7,153.3 L152.8,152.6 L152.9,151.9 L153.1,151.2 L153.2,150.5 L153.3,149.8 L153.5,149.1 L153.6,148.4 L153.7,147.8 L153.9,147.1 L154.0,146.4 L154.2,145.7 L154.4,145.0 L154.5,144.3 L154.7,143.6 L154.9,143.0 L155.1,142.3 L155.3,141.6 L155.4,140.9 L155.6,140.2 L155.8,139.6 L156.1,138.9 L156.3,138.2 L156.5,137.5 L156.7,136.9 L156.9,136.2 L157.1,135.5 L157.3,134.9 L157.5,134.2 L157.7,133.6 L157.9,132.9 L158.1,132.3 L158.3,131.6 L158.5,130.9 L158.8,130.2 L159.1,129.5 L159.4,128.9 L159.8,128.3 L160.3,127.7 L160.9,127.4 L161.5,127.2 L162.2,127.1 L163.0,127.3 L163.6,127.6 L164.2,128.0 L164.7,128.4 L165.2,128.9 L165.7,129.5 L166.2,130.0 L166.7,130.4 L167.3,130.8 L167.9,131.1 L168.5,131.5 L169.2,131.7 L169.9,132.0 L170.6,132.2 L171.3,132.3 L172.0,132.4 L172.7,132.4 L173.4,132.2 L173.9,131.9 L174.5,131.5 L174.9,131.0 L175.3,130.3 L175.7,129.7 L176.1,129.0 L176.5,128.4 L176.8,127.7 L177.1,127.1 L177.4,126.5 L177.7,125.9 L178.0,125.2 L178.3,124.6 L178.6,124.0 L179.0,123.4 L179.3,122.8 L179.6,122.2 L180.0,121.5 L180.4,120.9 L180.8,120.2 L181.2,119.5 L181.7,118.9 L182.2,118.4 L182.7,117.9 L183.2,117.5 L183.8,117.2 L184.4,117.0 L185.1,117.0 L185.8,117.1 L186.4,117.3 L187.1,117.6 L187.8,118.0 L188.4,118.5 L188.9,119.0 L189.4,119.5 L189.8,120.1 L190.2,120.7 L190.5,121.3 L190.8,121.9 L191.0,122.6 L191.2,123.3 L191.4,124.0 L191.6,124.7 L191.8,125.4 L192.0,126.1 L192.2,126.8 L192.3,127.5 L192.5,128.1 L192.8,128.8 L193.0,129.5 L193.2,130.2 L193.4,130.8 L193.7,131.5 L193.9,132.2 L194.2,132.8 L194.5,133.5 L194.7,134.1 L195.0,134.7 L195.3,135.4 L195.6,136.0 L195.8,136.6 L196.1,137.3 L196.4,137.9 L196.7,138.5 L196.9,139.2 L197.2,139.8 L197.5,140.4 L197.8,141.0 L198.2,141.6 L198.5,142.3 L198.9,142.9 L199.3,143.5 L199.7,144.1 L200.1,144.7 L200.6,145.3 L201.1,145.9 L201.7,146.4 L202.2,146.9 L202.8,147.3 L203.4,147.6 L204.1,147.7 L204.7,147.8 L205.4,147.8 L206.1,147.6 L206.8,147.4 L207.5,147.2 L208.2,146.9 L208.8,146.7 L209.4,146.4 L210.1,146.2 L210.7,145.9 L211.4,145.7 L212.1,145.6 L212.8,145.4 L213.5,145.3 L214.2,145.2 L214.9,145.1 L215.6,145.0 L216.3,145.0 L217.1,145.0 L217.8,145.1 L218.5,145.2 L219.1,145.4 L219.7,145.7 L220.3,146.1 L220.9,146.4 L221.4,146.9 L222.0,147.4 L222.5,147.8 L223.1,148.3 L223.6,148.8 L224.2,149.2 L224.8,149.6 L225.5,149.9 L226.1,150.2 L226.8,150.4 L227.5,150.6 L228.2,150.6 L228.8,150.6 L229.5,150.4 L230.2,150.2 L230.9,150.0 L231.5,149.7 L232.2,149.3 L232.8,148.9 L233.4,148.5 L233.9,148.0 L234.4,147.6 L234.9,147.1 L235.4,146.5 L235.9,146.0 L236.3,145.5 L236.7,144.9 L237.1,144.3 L237.5,143.7 L237.9,143.1 L238.3,142.5 L238.7,141.9 L239.0,141.3 L239.4,140.7 L239.7,140.1 L240.1,139.5 L240.4,138.9 L240.7,138.3 L241.1,137.6 L241.4,137.0 L241.7,136.4 L242.0,135.8 L242.3,135.1 L242.6,134.5 L242.9,133.9 L243.2,133.2 L243.5,132.6 L243.7,131.9 L244.0,131.3 L244.3,130.6 L244.5,130.0 L244.8,129.3 L245.0,128.7 L245.2,128.0 L245.5,127.3 L245.7,126.7 L245.9,126.0 L246.1,125.3 L246.3,124.7 L246.5,124.0 L246.7,123.3 L246.9,122.6 L247.1,122.0 L247.3,121.3 L247.5,120.6 L247.7,119.9 L247.9,119.3 L248.1,118.6 L248.2,117.9 L248.4,117.2 L248.6,116.5 L248.8,115.9 L248.9,115.2 L249.1,114.5 L249.3,113.8 L249.5,113.1 L249.6,112.5 L249.8,111.8 L250.0,111.1 L250.2,110.4 L250.4,109.8 L250.6,109.1 L250.8,108.4 L251.0,107.7 L251.2,107.1 L251.4,106.4" stroke="#000000" stroke-width="2.5" fill="none" stroke-linejoin="round" stroke-linecap="butt"/>
</g>
<line x1="33.0" x2="33.0" y1="7.95" y2="271.80" stroke="#a0a0a0" stroke-width="2.0"/>
<line x1="254.35" x2="254.35" y1="7.95" y2="271.80" stroke="#747474" stroke-width="1.4"/>
<line x1="32.00" x2="255.05" y1="8.9" y2="8.9" stroke="#a0a0a0" stroke-width="1.9"/>
<line x1="32.00" x2="255.05" y1="270.85" y2="270.85" stroke="#9c9c9c" stroke-width="1.9"/>
<path d="M33.30,270.55v-1.3M33.30,9.20v1.3M55.55,270.55v-1.3M55.55,9.20v1.3M77.80,270.55v-1.3M77.80,9.20v1.3M100.05,270.55v-1.3M100.05,9.20v1.3M122.30,270.55v-1.3M122.30,9.20v1.3M144.55,270.55v-1.3M144.55,9.20v1.3M166.80,270.55v-1.3M166.80,9.20v1.3M189.05,270.55v-1.3M189.05,9.20v1.3M211.30,270.55v-1.3M211.30,9.20v1.3M233.55,270.55v-1.3M233.55,9.20v1.3M33.30,251.95h1.3M254.05,251.95h-1.3M33.30,214.55h1.3M254.05,214.55h-1.3M33.30,177.15h1.3M254.05,177.15h-1.3M33.30,139.75h1.3M254.05,139.75h-1.3M33.30,102.35h1.3M254.05,102.35h-1.3M33.30,64.95h1.3M254.05,64.95h-1.3M33.30,27.55h1.3M254.05,27.55h-1.3" stroke="#2a2a2a" stroke-width="1"/>
<text class="tl" x="32.8" y="281.2" text-anchor="middle" textLength="19.3" lengthAdjust="spacing">1970</text>
<text class="tl" x="55.0" y="281.2" text-anchor="middle" textLength="19.3" lengthAdjust="spacing">1975</text>
<text class="tl" x="77.3" y="281.2" text-anchor="middle" textLength="19.3" lengthAdjust="spacing">1980</text>
<text class="tl" x="99.5" y="281.2" text-anchor="middle" textLength="19.3" lengthAdjust="spacing">1985</text>
<text class="tl" x="121.8" y="281.2" text-anchor="middle" textLength="19.3" lengthAdjust="spacing">1990</text>
<text class="tl" x="144.1" y="281.2" text-anchor="middle" textLength="19.3" lengthAdjust="spacing">1995</text>
<text class="tl" x="166.3" y="281.2" text-anchor="middle" textLength="19.3" lengthAdjust="spacing">2000</text>
<text class="tl" x="188.6" y="281.2" text-anchor="middle" textLength="19.3" lengthAdjust="spacing">2005</text>
<text class="tl" x="210.8" y="281.2" text-anchor="middle" textLength="19.3" lengthAdjust="spacing">2010</text>
<text class="tl" x="233.1" y="281.2" text-anchor="middle" textLength="19.3" lengthAdjust="spacing">2015</text>
<text class="tl" x="29.9" y="254.80" text-anchor="end">–6</text>
<text class="tl" x="29.9" y="217.40" text-anchor="end">–4</text>
<text class="tl" x="29.9" y="180.00" text-anchor="end">–2</text>
<text class="tl" x="29.9" y="142.60" text-anchor="end">0</text>
<text class="tl" x="29.9" y="105.20" text-anchor="end">2</text>
<text class="tl" x="29.9" y="67.80" text-anchor="end">4</text>
<text class="tl" x="29.9" y="30.40" text-anchor="end">6</text>
<text class="yl" transform="translate(15.6,139.8) rotate(-90)" text-anchor="middle" textLength="90" lengthAdjust="spacing">Ozone anomaly, ppbv</text>
<text class="tt" x="41.7" y="39.4" textLength="49.2" lengthAdjust="spacing">Jungfraujoch</text>
<text class="lg" x="41.7" y="57.9" fill="#000000" textLength="26.4" lengthAdjust="spacing">lowess</text>
<text class="lg" x="41.7" y="72.0" fill="#1f6fe0" textLength="58.8" lengthAdjust="spacing">2nd order poly.</text>
<text class="lg" x="41.7" y="86.1" fill="#6a4fd0" textLength="56.5" lengthAdjust="spacing">3rd order poly.</text>
<text class="lg" x="41.7" y="100.1" fill="#24128f" textLength="56.5" lengthAdjust="spacing">4th order poly.</text>
<text class="lg" x="41.7" y="114.2" fill="#72ad1e" textLength="61.6" lengthAdjust="spacing">10th order poly.</text>
<text class="lg" x="41.7" y="128.3" fill="#ff7f12" textLength="61.6" lengthAdjust="spacing">20th order poly.</text>
<clipPath id="cR"><rect x="290.7" y="8.9" width="219.90000000000003" height="260.40000000000003"/></clipPath>
<g clip-path="url(#cR)">
<line x1="290.7" x2="510.6" y1="138.85" y2="138.85" stroke="#b6b6b6" stroke-width="1.5"/>
<path d="M368.70,184.6 L369.07,166.0 L369.44,213.0 L369.81,200.0 L370.17,177.5 L370.54,243.2 L370.91,154.2 L371.28,183.8 L371.65,75.6 L372.01,211.0 L372.38,192.0 L372.75,163.1 L373.12,85.7 L373.49,155.8 L373.86,197.7 L374.22,48.9 L374.59,145.7 L374.96,199.3 L375.33,300.0 L375.70,179.2 L376.07,146.9 L376.44,148.6 L376.80,132.0 L377.17,154.9 L377.54,183.3 L377.91,178.4 L378.28,159.8 L378.64,215.0 L379.01,160.1 L379.38,167.5 L379.75,178.2 L380.12,235.0 L380.49,158.8 L380.86,157.0 L381.22,118.3 L381.59,154.1 L381.96,240.0 L382.33,185.0 L382.70,164.7 L383.06,132.1 L383.43,167.7 L383.80,170.2 L384.17,255.6 L384.54,113.6 L384.91,151.5 L385.27,182.3 L385.64,-20.0 L386.01,169.0 L386.38,149.5 L386.75,238.5 L387.12,100.0 L387.49,163.7 L387.85,132.9 L388.22,300.0 L388.59,168.7 L388.96,134.8 L389.33,160.8 L389.69,19.7 L390.06,142.1 L390.43,160.4 L390.80,145.2 L391.17,96.0 L391.54,185.0 L391.90,138.4 L392.27,166.4 L392.64,93.4 L393.01,190.0 L393.38,157.9 L393.75,114.3 L394.12,169.1 L394.48,113.6 L394.85,180.8 L395.22,195.0 L395.59,143.1 L395.96,174.4 L396.32,127.4 L396.69,135.8 L397.06,93.9 L397.43,140.4 L397.80,237.0 L398.17,189.5 L398.53,57.0 L398.90,168.2 L399.27,168.9 L399.64,134.5 L400.01,185.0 L400.38,139.9 L400.75,160.9 L401.11,139.6 L401.48,67.8 L401.85,133.8 L402.22,166.1 L402.59,232.0 L402.95,141.1 L403.32,167.7 L403.69,139.2 L404.06,74.0 L404.43,232.0 L404.80,143.0 L405.16,164.5 L405.53,168.6 L405.90,158.0 L406.27,243.2 L406.64,164.0 L407.01,139.2 L407.38,130.3 L407.74,99.7 L408.11,187.4 L408.48,124.6 L408.85,185.0 L409.22,149.4 L409.58,134.1 L409.95,127.9 L410.32,135.4 L410.69,105.9 L411.06,162.5 L411.43,190.0 L411.79,100.1 L412.16,164.8 L412.53,140.6 L412.90,162.7 L413.27,118.0 L413.64,143.9 L414.00,108.4 L414.37,164.9 L414.74,300.0 L415.11,141.2 L415.48,92.8 L415.85,161.4 L416.21,123.0 L416.58,139.9 L416.95,145.1 L417.32,48.0 L417.69,180.0 L418.06,147.2 L418.43,62.0 L418.79,165.0 L419.16,29.8 L419.53,114.1 L419.90,155.5 L420.27,68.0 L420.63,207.5 L421.00,152.2 L421.37,143.5 L421.74,-20.0 L422.11,148.4 L422.48,127.5 L422.84,-20.0 L423.21,116.3 L423.58,178.0 L423.95,52.0 L424.32,125.1 L424.69,116.1 L425.06,146.0 L425.42,131.8 L425.79,149.2 L426.16,130.2 L426.53,214.0 L426.90,132.7 L427.26,142.9 L427.63,129.5 L428.00,150.7 L428.37,132.3 L428.74,300.0 L429.11,127.9 L429.47,232.0 L429.84,131.1 L430.21,147.6 L430.58,130.4 L430.95,155.9 L431.32,131.1 L431.69,119.4 L432.05,180.0 L432.42,75.6 L432.79,121.3 L433.16,135.7 L433.53,126.5 L433.89,100.0 L434.26,151.7 L434.63,175.0 L435.00,109.8 L435.37,114.4 L435.74,47.6 L436.11,133.1 L436.47,106.4 L436.84,216.0 L437.21,135.7 L437.58,98.0 L437.95,147.2 L438.31,111.3 L438.68,116.0 L439.05,143.8 L439.42,46.5 L439.79,129.1 L440.16,178.0 L440.52,103.0 L440.89,123.5 L441.26,56.2 L441.63,137.0 L442.00,132.0 L442.37,88.8 L442.74,97.1 L443.10,180.0 L443.47,87.6 L443.84,-20.0 L444.21,114.0 L444.58,135.3 L444.94,52.0 L445.31,125.9 L445.68,176.0 L446.05,69.4 L446.42,92.5 L446.79,104.2 L447.15,105.7 L447.52,125.7 L447.89,98.0 L448.26,242.1 L448.63,91.2 L449.00,131.0 L449.37,98.0 L449.73,102.0 L450.10,205.2 L450.47,113.0 L450.84,144.7 L451.21,57.8 L451.57,117.6 L451.94,113.1 L452.31,74.0 L452.68,180.0 L453.05,112.2 L453.42,85.7 L453.78,107.1 L454.15,131.2 L454.52,110.7 L454.89,100.0 L455.26,217.6 L455.63,98.1 L456.00,150.0 L456.36,80.2 L456.73,109.6 L457.10,143.1 L457.47,131.6 L457.84,214.5 L458.20,67.0 L458.57,146.2 L458.94,126.5 L459.31,108.3 L459.68,148.4 L460.05,-20.0 L460.41,153.0 L460.78,190.0 L461.15,127.0 L461.52,36.8 L461.89,130.1 L462.26,126.2 L462.62,163.6 L462.99,195.0 L463.36,176.3 L463.73,105.9 L464.10,150.7 L464.47,172.5 L464.83,149.5 L465.20,144.1 L465.57,175.8 L465.94,214.5 L466.31,151.1 L466.68,178.6 L467.04,187.8 L467.41,171.2 L467.78,123.7 L468.15,200.0 L468.52,160.9 L468.89,196.7 L469.25,162.1 L469.62,240.0 L469.99,154.2 L470.36,243.0 L470.73,169.5 L471.10,199.4 L471.46,126.8 L471.83,300.0 L472.20,300.0 L472.57,187.7 L472.94,241.0 L473.31,156.0 L473.68,99.7 L474.04,196.3 L474.41,223.0 L474.78,218.5 L475.15,157.7 L475.52,193.7 L475.88,200.0 L476.25,197.5 L476.62,48.9 L476.99,192.7 L477.36,158.9 L477.73,186.1 L478.10,207.5 L478.46,130.0 L478.83,153.7 L479.20,173.3 L479.57,201.4 L479.94,147.5 L480.31,170.9 L480.67,105.0 L481.04,195.0 L481.41,131.4 L481.78,185.2 L482.15,101.0 L482.51,115.9 L482.88,141.5 L483.25,210.6 L483.62,161.4 L483.99,128.1 L484.36,163.8 L484.73,49.2 L485.09,182.6 L485.46,190.0 L485.83,128.1 L486.20,156.6 L486.57,96.0 L486.94,135.0 L487.30,149.7 L487.67,230.8 L488.04,103.7 L488.41,104.0 L488.78,160.5 L489.14,129.9 L489.51,216.0 L489.88,19.7 L490.25,119.9 L490.62,148.0 L490.99,129.4 L491.36,108.1 L491.72,131.7 L492.09,192.0 L492.46,144.1 L492.83,70.0 L493.20,122.0 L493.56,67.0 L493.93,117.1 L494.30,161.7 L494.67,72.0 L495.04,118.8 L495.41,220.7 L495.77,137.9 L496.14,170.8 L496.51,120.8 L496.88,98.0 L497.25,120.0 L497.62,201.0 L497.99,125.7 L498.35,183.0 L498.72,48.4 L499.09,131.4 L499.46,155.9 L499.83,140.4 L500.19,152.6 L500.56,141.8 L500.93,110.0 L501.30,222.2 L501.67,139.1 L502.04,132.2 L502.40,165.7 L502.77,48.9 L503.14,195.0 L503.51,158.6 L503.88,137.1" stroke="#c8c8c8" stroke-width="1.3" fill="none" stroke-linejoin="miter" stroke-miterlimit="20"/>
<path d="M368.6,169.9 L369.7,168.8 L370.9,167.7 L372.0,166.7 L373.1,165.6 L374.3,164.6 L375.4,163.6 L376.5,162.6 L377.7,161.6 L378.8,160.7 L379.9,159.7 L381.1,158.8 L382.2,157.9 L383.3,157.0 L384.5,156.2 L385.6,155.3 L386.7,154.5 L387.9,153.7 L389.0,152.9 L390.1,152.1 L391.3,151.3 L392.4,150.6 L393.5,149.9 L394.7,149.2 L395.8,148.5 L396.9,147.8 L398.1,147.2 L399.2,146.5 L400.3,145.9 L401.5,145.3 L402.6,144.7 L403.7,144.2 L404.8,143.6 L406.0,143.1 L407.1,142.6 L408.2,142.1 L409.4,141.6 L410.5,141.2 L411.6,140.7 L412.8,140.3 L413.9,139.9 L415.0,139.5 L416.2,139.2 L417.3,138.8 L418.4,138.5 L419.6,138.2 L420.7,137.9 L421.8,137.6 L423.0,137.4 L424.1,137.1 L425.2,136.9 L426.4,136.7 L427.5,136.5 L428.6,136.3 L429.8,136.2 L430.9,136.1 L432.0,136.0 L433.2,135.9 L434.3,135.8 L435.4,135.7 L436.6,135.7 L437.7,135.7 L438.8,135.6 L440.0,135.7 L441.1,135.7 L442.2,135.7 L443.4,135.8 L444.5,135.9 L445.6,136.0 L446.8,136.1 L447.9,136.2 L449.0,136.4 L450.2,136.6 L451.3,136.8 L452.4,137.0 L453.6,137.2 L454.7,137.4 L455.8,137.7 L457.0,138.0 L458.1,138.3 L459.2,138.6 L460.4,138.9 L461.5,139.3 L462.6,139.7 L463.8,140.1 L464.9,140.5 L466.0,140.9 L467.2,141.3 L468.3,141.8 L469.4,142.3 L470.5,142.8 L471.7,143.3 L472.8,143.8 L473.9,144.4 L475.1,144.9 L476.2,145.5 L477.3,146.1 L478.5,146.7 L479.6,147.4 L480.7,148.0 L481.9,148.7 L483.0,149.4 L484.1,150.1 L485.3,150.8 L486.4,151.6 L487.5,152.4 L488.7,153.1 L489.8,153.9 L490.9,154.8 L492.1,155.6 L493.2,156.4 L494.3,157.3 L495.5,158.2 L496.6,159.1 L497.7,160.0 L498.9,161.0 L500.0,162.0 L501.1,162.9 L502.3,163.9 L503.4,164.9" stroke="#1f6fe0" stroke-width="2.3" fill="none" stroke-linejoin="round" stroke-linecap="butt"/>
<path d="M368.9,180.4 L370.0,178.2 L371.2,176.1 L372.3,174.1 L373.4,172.1 L374.6,170.2 L375.7,168.3 L376.8,166.5 L377.9,164.8 L379.1,163.1 L380.2,161.5 L381.3,159.9 L382.5,158.4 L383.6,157.0 L384.7,155.6 L385.9,154.2 L387.0,152.9 L388.1,151.7 L389.2,150.5 L390.4,149.4 L391.5,148.3 L392.6,147.3 L393.8,146.3 L394.9,145.3 L396.0,144.4 L397.2,143.6 L398.3,142.8 L399.4,142.0 L400.5,141.3 L401.7,140.6 L402.8,140.0 L403.9,139.4 L405.1,138.8 L406.2,138.3 L407.3,137.8 L408.5,137.4 L409.6,137.0 L410.7,136.6 L411.8,136.3 L413.0,136.0 L414.1,135.7 L415.2,135.5 L416.4,135.3 L417.5,135.2 L418.6,135.0 L419.8,134.9 L420.9,134.8 L422.0,134.8 L423.2,134.8 L424.3,134.8 L425.4,134.8 L426.5,134.8 L427.7,134.9 L428.8,135.0 L429.9,135.1 L431.1,135.3 L432.2,135.4 L433.3,135.6 L434.5,135.8 L435.6,136.1 L436.7,136.3 L437.8,136.6 L439.0,136.8 L440.1,137.1 L441.2,137.4 L442.4,137.7 L443.5,138.1 L444.6,138.4 L445.8,138.7 L446.9,139.1 L448.0,139.5 L449.1,139.9 L450.3,140.2 L451.4,140.6 L452.5,141.0 L453.7,141.4 L454.8,141.9 L455.9,142.3 L457.1,142.7 L458.2,143.1 L459.3,143.5 L460.5,143.9 L461.6,144.4 L462.7,144.8 L463.8,145.2 L465.0,145.6 L466.1,146.0 L467.2,146.4 L468.4,146.8 L469.5,147.2 L470.6,147.6 L471.8,148.0 L472.9,148.4 L474.0,148.7 L475.1,149.1 L476.3,149.4 L477.4,149.8 L478.5,150.1 L479.7,150.4 L480.8,150.7 L481.9,151.0 L483.1,151.2 L484.2,151.5 L485.3,151.7 L486.4,151.9 L487.6,152.1 L488.7,152.3 L489.8,152.5 L491.0,152.6 L492.1,152.7 L493.2,152.8 L494.4,152.8 L495.5,152.9 L496.6,152.9 L497.7,152.9 L498.9,152.9 L500.0,152.8 L501.1,152.7 L502.3,152.6 L503.4,152.4" stroke="#6a4fd0" stroke-width="2.3" fill="none" stroke-linejoin="round" stroke-linecap="butt"/>
<path d="M368.9,165.6 L370.0,166.1 L371.2,166.5 L372.3,166.7 L373.4,166.7 L374.5,166.7 L375.7,166.5 L376.8,166.2 L377.9,165.7 L379.1,165.2 L380.2,164.6 L381.3,163.9 L382.4,163.1 L383.6,162.2 L384.7,161.3 L385.8,160.3 L387.0,159.3 L388.1,158.2 L389.2,157.1 L390.3,155.9 L391.5,154.7 L392.6,153.5 L393.7,152.2 L394.9,151.0 L396.0,149.7 L397.1,148.5 L398.2,147.2 L399.4,145.9 L400.5,144.7 L401.6,143.5 L402.8,142.3 L403.9,141.1 L405.0,139.9 L406.1,138.8 L407.3,137.7 L408.4,136.6 L409.5,135.6 L410.7,134.6 L411.8,133.7 L412.9,132.8 L414.0,131.9 L415.2,131.1 L416.3,130.4 L417.4,129.7 L418.6,129.1 L419.7,128.6 L420.8,128.1 L421.9,127.6 L423.1,127.3 L424.2,127.0 L425.3,126.7 L426.5,126.5 L427.6,126.4 L428.7,126.4 L429.8,126.4 L431.0,126.5 L432.1,126.6 L433.2,126.9 L434.4,127.1 L435.5,127.5 L436.6,127.9 L437.7,128.4 L438.9,128.9 L440.0,129.5 L441.1,130.1 L442.3,130.8 L443.4,131.6 L444.5,132.4 L445.6,133.2 L446.8,134.1 L447.9,135.1 L449.0,136.0 L450.2,137.0 L451.3,138.1 L452.4,139.2 L453.5,140.3 L454.7,141.4 L455.8,142.6 L456.9,143.7 L458.1,144.9 L459.2,146.1 L460.3,147.3 L461.4,148.5 L462.6,149.6 L463.7,150.8 L464.8,151.9 L466.0,153.1 L467.1,154.1 L468.2,155.2 L469.3,156.2 L470.5,157.2 L471.6,158.1 L472.7,159.0 L473.9,159.8 L475.0,160.5 L476.1,161.1 L477.2,161.7 L478.4,162.2 L479.5,162.5 L480.6,162.8 L481.8,162.9 L482.9,162.9 L484.0,162.8 L485.1,162.6 L486.3,162.1 L487.4,161.6 L488.5,160.8 L489.7,159.9 L490.8,158.8 L491.9,157.5 L493.0,156.1 L494.2,154.4 L495.3,152.4 L496.4,150.3 L497.6,147.9 L498.7,145.2 L499.8,142.3 L500.9,139.1 L502.1,135.6 L503.2,131.8" stroke="#24128f" stroke-width="2.3" fill="none" stroke-linejoin="round" stroke-linecap="butt"/>
<path d="M369.6,163.0 L370.0,162.2 L370.4,161.5 L370.7,160.8 L370.9,160.2 L371.1,159.5 L371.3,158.9 L371.5,158.3 L371.6,157.7 L371.8,157.1 L372.0,156.5 L372.1,155.9 L372.4,155.2 L372.6,154.5 L372.9,153.8 L373.2,153.0 L373.6,152.3 L374.1,151.8 L374.6,151.7 L375.2,152.1 L375.7,152.7 L376.2,153.3 L376.6,153.9 L376.9,154.5 L377.2,155.1 L377.4,155.8 L377.7,156.4 L377.9,157.0 L378.2,157.7 L378.4,158.3 L378.6,159.0 L378.9,159.7 L379.2,160.3 L379.4,161.0 L379.7,161.7 L380.1,162.3 L380.4,162.9 L380.8,163.6 L381.2,164.1 L381.7,164.7 L382.2,165.1 L382.8,165.5 L383.4,165.9 L384.0,166.1 L384.7,166.3 L385.4,166.3 L386.2,166.3 L386.8,166.1 L387.4,165.8 L387.9,165.3 L388.4,164.8 L388.8,164.2 L389.2,163.5 L389.6,162.8 L389.9,162.2 L390.3,161.5 L390.7,160.9 L391.0,160.3 L391.3,159.7 L391.7,159.1 L392.0,158.4 L392.3,157.8 L392.7,157.2 L393.0,156.6 L393.3,156.0 L393.6,155.4 L393.9,154.8 L394.2,154.2 L394.5,153.6 L394.8,152.9 L395.1,152.3 L395.4,151.7 L395.7,151.0 L396.0,150.4 L396.4,149.8 L396.7,149.2 L397.0,148.5 L397.3,147.9 L397.7,147.3 L398.0,146.7 L398.4,146.0 L398.8,145.4 L399.2,144.8 L399.6,144.3 L400.0,143.7 L400.4,143.1 L400.8,142.6 L401.3,142.1 L401.8,141.6 L402.3,141.1 L402.9,140.7 L403.4,140.2 L404.0,139.9 L404.6,139.5 L405.3,139.2 L405.9,138.9 L406.6,138.7 L407.3,138.5 L408.0,138.4 L408.7,138.4 L409.4,138.5 L410.1,138.7 L410.7,138.9 L411.4,139.2 L412.0,139.4 L412.7,139.7 L413.3,140.1 L413.9,140.4 L414.5,140.8 L415.1,141.2 L415.8,141.6 L416.4,142.0 L417.0,142.3 L417.7,142.5 L418.3,142.6 L419.0,142.6 L419.7,142.4 L420.4,142.2 L421.1,142.0 L421.7,141.7 L422.4,141.4 L423.0,141.0 L423.6,140.6 L424.1,140.2 L424.6,139.7 L425.1,139.2 L425.5,138.7 L425.9,138.1 L426.3,137.5 L426.7,136.9 L427.1,136.3 L427.4,135.7 L427.8,135.1 L428.1,134.4 L428.5,133.8 L428.8,133.2 L429.2,132.6 L429.5,132.0 L429.9,131.4 L430.2,130.8 L430.5,130.1 L430.8,129.5 L431.0,128.8 L431.3,128.2 L431.6,127.5 L431.8,126.9 L432.1,126.2 L432.4,125.6 L432.7,125.0 L433.0,124.3 L433.3,123.7 L433.7,123.1 L434.0,122.5 L434.4,121.9 L434.7,121.3 L435.1,120.7 L435.5,120.1 L435.8,119.5 L436.1,118.8 L436.4,118.2 L436.8,117.6 L437.1,117.0 L437.5,116.4 L437.9,115.8 L438.3,115.2 L438.8,114.7 L439.3,114.2 L439.8,113.8 L440.4,113.3 L441.0,113.0 L441.6,112.7 L442.3,112.5 L443.0,112.4 L443.7,112.4 L444.4,112.6 L445.1,112.8 L445.7,113.2 L446.3,113.5 L446.8,114.0 L447.4,114.4 L447.9,114.9 L448.3,115.5 L448.7,116.0 L449.1,116.6 L449.5,117.2 L449.9,117.8 L450.2,118.4 L450.5,119.0 L450.8,119.7 L451.1,120.3 L451.4,121.0 L451.7,121.7 L451.9,122.4 L452.2,123.0 L452.5,123.7 L452.7,124.4 L452.9,125.0 L453.2,125.7 L453.4,126.4 L453.7,127.0 L453.9,127.7 L454.1,128.4 L454.4,129.0 L454.6,129.7 L454.8,130.4 L455.1,131.0 L455.3,131.7 L455.5,132.4 L455.7,133.0 L455.9,133.7 L456.1,134.3 L456.4,135.0 L456.6,135.7 L456.8,136.3 L457.0,137.0 L457.2,137.7 L457.4,138.3 L457.6,139.0 L457.8,139.7 L457.9,140.4 L458.1,141.0 L458.3,141.7 L458.5,142.4 L458.7,143.1 L458.9,143.7 L459.1,144.4 L459.2,145.1 L459.4,145.8 L459.6,146.5 L459.8,147.1 L460.0,147.8 L460.1,148.5 L460.3,149.2 L460.5,149.9 L460.7,150.6 L460.8,151.2 L461.0,151.9 L461.2,152.6 L461.4,153.3 L461.6,153.9 L461.8,154.6 L461.9,155.3 L462.1,156.0 L462.3,156.6 L462.5,157.3 L462.8,158.0 L463.0,158.6 L463.2,159.3 L463.4,160.0 L463.6,160.7 L463.8,161.3 L464.0,162.0 L464.3,162.7 L464.5,163.3 L464.7,164.0 L464.9,164.7 L465.1,165.3 L465.4,166.0 L465.6,166.7 L465.9,167.3 L466.1,168.0 L466.4,168.6 L466.7,169.3 L467.0,169.9 L467.3,170.5 L467.7,171.1 L468.1,171.7 L468.5,172.3 L468.9,172.9 L469.4,173.4 L469.9,173.9 L470.5,174.3 L471.1,174.6 L471.8,174.7 L472.5,174.8 L473.2,174.7 L473.9,174.6 L474.6,174.3 L475.1,173.9 L475.7,173.4 L476.1,172.9 L476.5,172.3 L476.9,171.7 L477.3,171.1 L477.6,170.5 L477.9,169.8 L478.1,169.2 L478.4,168.5 L478.6,167.8 L478.9,167.2 L479.1,166.5 L479.4,165.9 L479.6,165.2 L479.9,164.6 L480.2,163.9 L480.5,163.3 L480.8,162.6 L481.1,162.0 L481.4,161.4 L481.7,160.7 L482.0,160.1 L482.2,159.5 L482.5,158.8 L482.8,158.2 L483.0,157.5 L483.3,156.9 L483.6,156.2 L483.8,155.5 L484.1,154.9 L484.3,154.2 L484.6,153.6 L484.8,152.9 L485.1,152.3 L485.4,151.6 L485.6,151.0 L485.9,150.3 L486.2,149.7 L486.5,149.0 L486.8,148.4 L487.1,147.7 L487.4,147.1 L487.8,146.5 L488.1,145.9 L488.4,145.3 L488.8,144.7 L489.2,144.1 L489.6,143.6 L490.0,143.0 L490.5,142.5 L491.1,142.0 L491.7,141.6 L492.3,141.3 L493.0,141.3 L493.7,141.5 L494.3,141.8 L494.9,142.3 L495.4,142.8 L495.8,143.3 L496.2,143.9 L496.5,144.5 L496.8,145.1 L497.0,145.7 L497.3,146.3 L497.6,147.0 L497.9,147.6 L498.2,148.3 L498.7,148.9 L499.2,149.6 L499.8,150.2 L500.3,150.5 L500.8,150.4 L501.2,149.9 L501.5,149.2 L501.7,148.4 L501.9,147.5 L502.1,146.7 L502.3,145.9 L502.4,145.1 L502.5,144.4 L502.6,143.7 L502.7,143.0 L502.7,142.4 L502.8,141.7 L502.8,141.1 L502.8,140.5 L502.8,139.9 L502.8,139.3 L502.8,138.8 L502.8,138.2 L502.8,137.6 L502.8,137.0 L502.8,136.4 L502.8,135.7 L502.8,135.1 L502.8,134.4 L502.8,133.8 L502.9,133.0 L502.9,132.3 L503.0,131.5 L503.1,130.7 L503.2,129.8 L503.3,128.9 L503.5,128.0" stroke="#72ad1e" stroke-width="2.3" fill="none" stroke-linejoin="round" stroke-linecap="butt"/>
<path d="M369.0,209.5 L369.0,208.9 L369.0,208.2 L369.1,207.5 L369.1,206.9 L369.1,206.2 L369.1,205.5 L369.1,204.9 L369.1,204.2 L369.2,203.5 L369.2,202.8 L369.2,202.1 L369.2,201.4 L369.2,200.7 L369.2,200.0 L369.2,199.3 L369.3,198.6 L369.3,197.8 L369.3,197.1 L369.3,196.4 L369.3,195.7 L369.3,195.0 L369.3,194.2 L369.3,193.5 L369.3,192.8 L369.4,192.0 L369.4,191.3 L369.4,190.6 L369.4,189.9 L369.4,189.1 L369.4,188.4 L369.4,187.7 L369.5,186.9 L369.5,186.2 L369.5,185.5 L369.5,184.7 L369.5,184.0 L369.6,183.3 L369.6,182.6 L369.6,181.9 L369.6,181.1 L369.7,180.4 L369.7,179.7 L369.7,179.0 L369.8,178.3 L369.8,177.6 L369.8,176.9 L369.9,176.2 L369.9,175.5 L369.9,174.8 L370.0,174.2 L370.0,173.5 L370.1,172.8 L370.1,172.2 L370.2,171.5 L370.2,170.9 L370.3,170.2 L370.3,169.6 L370.4,168.9 L370.5,168.3 L370.5,167.7 L370.6,167.0 L370.7,166.4 L370.8,165.7 L370.9,165.0 L371.0,164.3 L371.1,163.6 L371.2,162.8 L371.3,162.0 L371.5,161.2 L371.6,160.4 L371.8,159.5 L372.1,158.8 L372.4,158.2 L372.9,157.9 L373.5,157.9 L374.2,158.2 L374.9,158.5 L375.4,159.0 L375.9,159.4 L376.4,160.0 L376.8,160.5 L377.2,161.1 L377.7,161.6 L378.2,162.1 L378.7,162.6 L379.4,162.9 L380.0,163.2 L380.7,163.3 L381.4,163.3 L382.1,163.1 L382.7,162.8 L383.3,162.4 L384.0,162.0 L384.6,161.7 L385.2,161.3 L385.8,160.9 L386.4,160.6 L387.0,160.2 L387.5,159.8 L388.0,159.3 L388.6,158.8 L389.1,158.3 L389.6,157.9 L390.1,157.4 L390.7,157.0 L391.2,156.5 L391.8,156.1 L392.4,155.7 L392.9,155.3 L393.4,154.8 L393.9,154.3 L394.4,153.8 L394.9,153.3 L395.5,153.0 L396.2,152.7 L396.8,152.5 L397.5,152.3 L398.2,152.1 L398.9,151.9 L399.6,151.7 L400.2,151.4 L400.8,151.1 L401.4,150.7 L402.0,150.3 L402.6,149.9 L403.2,149.5 L403.7,149.0 L404.2,148.5 L404.6,148.0 L405.0,147.4 L405.4,146.8 L405.8,146.2 L406.1,145.6 L406.5,145.0 L406.8,144.4 L407.2,143.8 L407.6,143.2 L407.9,142.5 L408.3,141.9 L408.6,141.3 L409.0,140.7 L409.4,140.1 L409.7,139.5 L410.1,138.9 L410.5,138.4 L410.9,137.8 L411.4,137.3 L411.8,136.7 L412.2,136.2 L412.7,135.7 L413.2,135.2 L413.7,134.7 L414.2,134.2 L414.7,133.7 L415.3,133.3 L415.9,132.8 L416.4,132.4 L417.1,132.1 L417.7,131.8 L418.3,131.5 L419.0,131.4 L419.7,131.3 L420.4,131.3 L421.1,131.3 L421.8,131.3 L422.5,131.3 L423.2,131.3 L423.9,131.3 L424.6,131.4 L425.3,131.5 L426.0,131.7 L426.7,131.9 L427.4,132.1 L428.0,132.4 L428.7,132.6 L429.3,132.9 L430.0,133.1 L430.6,133.3 L431.4,133.5 L432.1,133.6 L432.8,133.5 L433.4,133.4 L434.1,133.1 L434.6,132.7 L435.2,132.2 L435.8,131.8 L436.3,131.3 L436.8,130.8 L437.2,130.2 L437.7,129.7 L438.1,129.1 L438.4,128.5 L438.8,127.9 L439.1,127.3 L439.4,126.7 L439.7,126.0 L440.0,125.4 L440.4,124.8 L440.7,124.2 L441.1,123.6 L441.5,123.0 L441.9,122.4 L442.3,121.8 L442.7,121.3 L443.1,120.7 L443.4,120.1 L443.8,119.5 L444.2,118.9 L444.6,118.3 L445.0,117.8 L445.4,117.2 L445.9,116.7 L446.3,116.1 L446.8,115.6 L447.3,115.1 L447.9,114.7 L448.5,114.3 L449.2,114.0 L449.8,113.8 L450.5,113.8 L451.2,113.9 L451.9,114.2 L452.5,114.5 L453.1,114.9 L453.6,115.4 L454.1,115.9 L454.5,116.5 L454.9,117.1 L455.3,117.7 L455.7,118.3 L456.0,119.0 L456.3,119.6 L456.6,120.3 L456.9,120.9 L457.1,121.6 L457.4,122.2 L457.6,122.9 L457.9,123.6 L458.1,124.2 L458.3,124.9 L458.5,125.6 L458.7,126.2 L458.9,126.9 L459.1,127.6 L459.3,128.2 L459.5,128.9 L459.7,129.6 L459.8,130.3 L460.0,131.0 L460.2,131.6 L460.3,132.3 L460.5,133.0 L460.6,133.7 L460.8,134.4 L460.9,135.0 L461.1,135.7 L461.3,136.4 L461.4,137.1 L461.6,137.8 L461.7,138.5 L461.9,139.2 L462.0,139.8 L462.2,140.5 L462.3,141.2 L462.4,141.9 L462.6,142.6 L462.7,143.3 L462.9,144.0 L463.0,144.7 L463.2,145.3 L463.3,146.0 L463.4,146.7 L463.6,147.4 L463.7,148.1 L463.8,148.8 L464.0,149.5 L464.1,150.2 L464.2,150.9 L464.4,151.5 L464.5,152.2 L464.6,152.9 L464.7,153.6 L464.8,154.3 L465.0,155.0 L465.1,155.7 L465.2,156.4 L465.3,157.1 L465.5,157.8 L465.6,158.4 L465.7,159.1 L465.8,159.8 L466.0,160.5 L466.1,161.2 L466.2,161.9 L466.3,162.6 L466.5,163.3 L466.6,164.0 L466.7,164.7 L466.9,165.3 L467.0,166.0 L467.1,166.7 L467.3,167.4 L467.4,168.1 L467.6,168.8 L467.7,169.5 L467.8,170.2 L468.0,170.9 L468.1,171.5 L468.3,172.2 L468.4,172.9 L468.5,173.6 L468.7,174.3 L468.8,175.0 L468.9,175.7 L469.0,176.4 L469.2,177.1 L469.3,177.8 L469.3,178.5 L469.4,179.1 L469.5,179.8 L469.6,180.5 L469.6,181.2 L469.7,181.9 L469.9,182.6 L470.0,183.3 L470.3,183.9 L470.6,184.6 L470.9,185.2 L471.4,185.9 L471.9,186.5 L472.5,187.0 L473.1,187.2 L473.7,187.1 L474.1,186.6 L474.6,186.0 L474.9,185.2 L475.2,184.4 L475.5,183.7 L475.8,183.0 L476.0,182.3 L476.2,181.6 L476.3,181.0 L476.5,180.3 L476.7,179.7 L476.8,179.0 L477.0,178.4 L477.1,177.8 L477.3,177.1 L477.5,176.5 L477.7,175.8 L477.9,175.1 L478.1,174.5 L478.3,173.8 L478.5,173.1 L478.7,172.4 L478.9,171.7 L479.1,171.0 L479.3,170.4 L479.5,169.7 L479.7,169.0 L479.9,168.3 L480.1,167.6 L480.2,167.0 L480.4,166.3 L480.6,165.6 L480.8,164.9 L480.9,164.3 L481.1,163.6 L481.3,162.9 L481.4,162.2 L481.6,161.5 L481.8,160.9 L481.9,160.2 L482.1,159.5 L482.2,158.8 L482.4,158.1 L482.5,157.4 L482.7,156.7 L482.8,156.0 L482.9,155.3 L483.0,154.6 L483.2,153.8 L483.3,153.1 L483.4,152.4 L483.5,151.7 L483.6,151.0 L483.7,150.3 L483.8,149.7 L483.9,149.0 L483.9,148.3 L484.0,147.7 L484.1,147.0 L484.2,146.4 L484.2,145.8 L484.3,145.1 L484.4,144.5 L484.4,143.9 L484.5,143.3 L484.6,142.7 L484.6,142.1 L484.7,141.5 L484.8,140.9 L484.9,140.2 L485.0,139.6 L485.1,139.0 L485.2,138.3 L485.4,137.6 L485.5,136.9 L485.7,136.2 L485.8,135.5 L486.0,134.7 L486.2,133.9 L486.4,133.1 L486.7,132.2 L486.9,131.4 L487.2,130.5 L487.5,129.5 L487.8,128.6 L488.2,127.9 L488.6,127.3 L489.0,127.1 L489.5,127.2 L489.9,127.7 L490.4,128.3 L490.8,129.0 L491.1,129.7 L491.3,130.3 L491.5,131.0 L491.7,131.6 L491.8,132.3 L491.9,133.0 L492.1,133.6 L492.2,134.3 L492.3,135.0 L492.4,135.7 L492.6,136.4 L492.7,137.1 L492.8,137.8 L492.9,138.6 L493.0,139.3 L493.1,140.0 L493.2,140.7 L493.3,141.4 L493.4,142.1 L493.5,142.8 L493.6,143.5 L493.7,144.2 L493.8,144.9 L493.9,145.6 L494.0,146.3 L494.1,146.9 L494.1,147.6 L494.2,148.2 L494.3,148.9 L494.4,149.5 L494.5,150.1 L494.5,150.7 L494.6,151.3 L494.7,151.9 L494.8,152.5 L494.9,153.1 L495.0,153.7 L495.1,154.3 L495.2,155.0 L495.3,155.6 L495.5,156.3 L495.6,156.9 L495.8,157.6 L495.9,158.3 L496.1,159.1 L496.3,159.8 L496.5,160.6 L496.7,161.4 L497.0,162.3 L497.2,163.2 L497.5,164.1 L497.8,165.0 L498.2,165.8 L498.5,166.2 L498.9,166.2 L499.4,165.7 L499.8,165.0 L500.1,164.3 L500.3,163.5 L500.5,162.8 L500.6,162.1 L500.6,161.5 L500.6,160.8 L500.6,160.1 L500.6,159.5 L500.6,158.8 L500.6,158.1 L500.6,157.4 L500.6,156.8 L500.6,156.1 L500.6,155.4 L500.7,154.7 L500.7,154.0 L500.8,153.3 L500.8,152.6 L500.9,151.9 L500.9,151.2 L501.0,150.5 L501.1,149.8 L501.2,149.1 L501.2,148.4 L501.3,147.7 L501.4,147.0 L501.5,146.3 L501.6,145.5 L501.7,144.8 L501.8,144.1 L501.9,143.4 L502.1,142.7 L502.2,141.9 L502.3,141.2 L502.4,140.5 L502.5,139.8 L502.6,139.0 L502.8,138.3 L502.9,137.6 L503.0,136.8 L503.1,136.1 L503.3,135.4 L503.4,134.7 L503.5,133.9 L503.6,133.2 L503.7,132.5 L503.9,131.7 L504.0,131.0 L504.1,130.3 L504.2,129.6 L504.3,128.8 L504.4,128.1 L504.5,127.4 L504.6,126.6 L504.7,125.9 L504.8,125.2 L504.9,124.5 L505.0,123.7 L505.1,123.0 L505.1,122.3 L505.2,121.6 L505.3,120.9 L505.3,120.2 L505.4,119.5 L505.4,118.7 L505.5,118.0 L505.5,117.3 L505.5,116.6 L505.5,115.9 L505.5,115.2 L505.5,114.5 L505.5,113.8 L505.5,113.1 L505.5,112.5 L505.5,111.8 L505.4,111.1 L505.4,110.4 L505.3,109.7 L505.2,109.1 L505.2,108.4 L505.1,107.7 L505.0,107.1 L504.8,106.4 L504.7,105.8 L504.6,105.1 L504.4,104.5 L504.3,103.8 L504.1,103.2 L503.9,102.6 L503.7,101.9 L503.5,101.3" stroke="#ff7f12" stroke-width="2.3" fill="none" stroke-linejoin="round" stroke-linecap="butt"/>
<path d="M368.9,174.5 L369.3,174.0 L369.8,173.4 L370.2,172.8 L370.6,172.3 L371.0,171.7 L371.4,171.1 L371.8,170.5 L372.2,170.0 L372.7,169.4 L373.1,168.8 L373.5,168.3 L374.0,167.7 L374.4,167.2 L374.9,166.7 L375.3,166.2 L375.8,165.7 L376.3,165.2 L376.9,164.7 L377.4,164.2 L377.9,163.8 L378.5,163.4 L379.0,162.9 L379.6,162.5 L380.2,162.1 L380.8,161.7 L381.3,161.3 L381.9,160.9 L382.5,160.5 L383.1,160.0 L383.6,159.7 L384.2,159.3 L384.8,158.9 L385.4,158.5 L386.0,158.1 L386.6,157.7 L387.2,157.3 L387.7,157.0 L388.3,156.6 L388.9,156.2 L389.5,155.9 L390.1,155.5 L390.7,155.1 L391.4,154.8 L392.0,154.5 L392.6,154.1 L393.2,153.8 L393.9,153.5 L394.5,153.2 L395.2,152.9 L395.8,152.8 L396.5,152.7 L397.3,152.7 L398.0,152.9 L398.6,153.1 L399.2,153.5 L399.8,153.9 L400.4,154.3 L400.9,154.7 L401.6,155.0 L402.3,155.2 L403.0,155.3 L403.6,155.1 L404.2,154.7 L404.7,154.2 L405.2,153.6 L405.6,152.9 L406.0,152.3 L406.3,151.7 L406.7,151.1 L407.0,150.5 L407.3,149.9 L407.6,149.3 L407.9,148.6 L408.2,148.0 L408.5,147.4 L408.8,146.7 L409.1,146.1 L409.4,145.4 L409.6,144.8 L409.9,144.1 L410.1,143.5 L410.4,142.8 L410.6,142.2 L410.8,141.5 L411.1,140.8 L411.3,140.2 L411.5,139.5 L411.8,138.8 L412.0,138.2 L412.3,137.5 L412.6,136.9 L412.9,136.2 L413.2,135.6 L413.5,135.0 L413.8,134.3 L414.1,133.7 L414.5,133.1 L414.9,132.6 L415.3,132.0 L415.7,131.4 L416.1,130.9 L416.6,130.3 L417.1,129.8 L417.7,129.3 L418.3,128.9 L419.0,128.8 L419.6,128.9 L420.3,129.2 L420.9,129.6 L421.4,130.1 L421.8,130.7 L422.1,131.3 L422.5,131.9 L422.8,132.6 L423.1,133.2 L423.4,133.9 L423.7,134.5 L424.0,135.1 L424.3,135.6 L424.7,136.2 L425.1,136.8 L425.5,137.5 L425.9,138.2 L426.4,138.8 L426.9,139.2 L427.5,139.3 L428.1,139.0 L428.7,138.6 L429.2,138.0 L429.6,137.4 L430.0,136.8 L430.3,136.2 L430.6,135.6 L430.9,135.0 L431.2,134.4 L431.6,133.7 L431.9,133.1 L432.3,132.5 L432.6,131.9 L433.0,131.3 L433.3,130.7 L433.7,130.1 L434.1,129.5 L434.4,128.9 L434.8,128.3 L435.2,127.7 L435.6,127.1 L435.9,126.5 L436.3,125.9 L436.7,125.3 L437.1,124.7 L437.5,124.2 L438.0,123.6 L438.4,123.0 L438.8,122.5 L439.3,121.9 L439.7,121.4 L440.2,120.9 L440.6,120.3 L441.1,119.8 L441.6,119.3 L442.1,118.9 L442.7,118.4 L443.2,118.0 L443.8,117.6 L444.5,117.2 L445.1,117.0 L445.8,116.8 L446.5,116.8 L447.2,116.9 L447.9,117.1 L448.5,117.5 L449.0,117.9 L449.5,118.4 L450.0,119.0 L450.5,119.5 L450.9,120.0 L451.3,120.6 L451.7,121.2 L452.1,121.8 L452.5,122.4 L452.8,123.0 L453.2,123.6 L453.5,124.3 L453.8,124.9 L454.1,125.5 L454.4,126.2 L454.6,126.8 L454.9,127.5 L455.2,128.1 L455.4,128.8 L455.7,129.4 L455.9,130.1 L456.1,130.8 L456.4,131.4 L456.6,132.1 L456.8,132.8 L457.0,133.4 L457.3,134.1 L457.5,134.8 L457.7,135.4 L457.9,136.1 L458.1,136.8 L458.3,137.4 L458.6,138.1 L458.8,138.8 L459.0,139.4 L459.3,140.1 L459.5,140.7 L459.7,141.4 L460.0,142.1 L460.2,142.7 L460.5,143.4 L460.7,144.0 L460.9,144.7 L461.2,145.3 L461.4,146.0 L461.7,146.6 L461.9,147.3 L462.2,148.0 L462.4,148.6 L462.6,149.3 L462.9,150.0 L463.1,150.6 L463.3,151.3 L463.5,152.0 L463.7,152.7 L463.9,153.4 L464.1,154.1 L464.3,154.8 L464.5,155.5 L464.7,156.2 L464.9,156.9 L465.0,157.6 L465.2,158.3 L465.4,159.0 L465.5,159.7 L465.7,160.4 L465.9,161.1 L466.0,161.8 L466.2,162.4 L466.4,163.1 L466.5,163.7 L466.7,164.4 L466.9,165.0 L467.0,165.6 L467.2,166.2 L467.4,166.8 L467.5,167.4 L467.7,167.9 L467.9,168.5 L468.1,169.1 L468.2,169.7 L468.4,170.3 L468.6,170.9 L468.8,171.6 L469.0,172.2 L469.1,172.9 L469.3,173.6 L469.5,174.4 L469.7,175.2 L469.8,176.0 L470.0,176.9 L470.2,177.9 L470.4,178.9 L470.5,179.9 L470.7,180.8 L470.9,181.8 L471.2,182.6 L471.4,183.3 L471.7,183.8 L472.0,184.1 L472.3,184.2 L472.7,183.9 L473.1,183.5 L473.6,182.8 L474.0,182.1 L474.3,181.4 L474.6,180.7 L474.8,180.0 L475.0,179.3 L475.2,178.6 L475.3,178.0 L475.4,177.3 L475.5,176.7 L475.7,176.0 L475.8,175.3 L476.0,174.7 L476.1,174.0 L476.3,173.4 L476.5,172.7 L476.7,172.0 L476.8,171.3 L477.0,170.7 L477.2,170.0 L477.4,169.3 L477.6,168.6 L477.8,167.9 L478.1,167.2 L478.3,166.6 L478.5,165.9 L478.7,165.2 L478.9,164.5 L479.1,163.8 L479.3,163.1 L479.5,162.5 L479.7,161.8 L479.9,161.1 L480.1,160.4 L480.2,159.7 L480.4,159.0 L480.6,158.4 L480.8,157.7 L481.0,157.0 L481.2,156.3 L481.4,155.7 L481.6,155.0 L481.8,154.3 L482.0,153.7 L482.2,153.0 L482.4,152.3 L482.7,151.7 L482.9,151.0 L483.2,150.3 L483.4,149.7 L483.7,149.0 L484.0,148.4 L484.3,147.7 L484.6,147.1 L484.9,146.5 L485.3,145.9 L485.7,145.3 L486.1,144.7 L486.5,144.2 L487.0,143.7 L487.5,143.2 L488.0,142.7 L488.5,142.2 L489.1,141.8 L489.7,141.4 L490.3,141.0 L491.0,140.6 L491.6,140.3 L492.3,140.1 L493.0,140.0 L493.7,140.0 L494.3,140.2 L494.9,140.4 L495.5,140.8 L496.1,141.2 L496.7,141.7 L497.2,142.3 L497.7,142.8 L498.2,143.4 L498.7,143.9 L499.1,144.5 L499.5,145.0 L500.0,145.6 L500.3,146.2 L500.7,146.7 L501.1,147.3 L501.5,147.9 L501.8,148.5 L502.2,149.1 L502.5,149.7 L502.8,150.3 L503.2,151.0 L503.5,151.6" stroke="#000000" stroke-width="2.5" fill="none" stroke-linejoin="round" stroke-linecap="butt"/>
</g>
<line x1="290.7" x2="290.7" y1="7.95" y2="269.85" stroke="#757575" stroke-width="1.4"/>
<line x1="510.6" x2="510.6" y1="7.95" y2="269.85" stroke="#707070" stroke-width="1.2"/>
<line x1="290.00" x2="511.20" y1="8.9" y2="8.9" stroke="#a0a0a0" stroke-width="1.9"/>
<line x1="290.00" x2="511.20" y1="269.3" y2="269.3" stroke="#707070" stroke-width="1.1"/>
<path d="M290.90,269.00v-1.3M290.90,9.20v1.3M313.02,269.00v-1.3M313.02,9.20v1.3M335.15,269.00v-1.3M335.15,9.20v1.3M357.27,269.00v-1.3M357.27,9.20v1.3M379.40,269.00v-1.3M379.40,9.20v1.3M401.52,269.00v-1.3M401.52,9.20v1.3M423.65,269.00v-1.3M423.65,9.20v1.3M445.77,269.00v-1.3M445.77,9.20v1.3M467.90,269.00v-1.3M467.90,9.20v1.3M490.02,269.00v-1.3M490.02,9.20v1.3M291.00,250.60h1.3M510.30,250.60h-1.3M291.00,213.40h1.3M510.30,213.40h-1.3M291.00,176.20h1.3M510.30,176.20h-1.3M291.00,139.00h1.3M510.30,139.00h-1.3M291.00,101.80h1.3M510.30,101.80h-1.3M291.00,64.60h1.3M510.30,64.60h-1.3M291.00,27.40h1.3M510.30,27.40h-1.3" stroke="#2a2a2a" stroke-width="1"/>
<text class="tl" x="290.4" y="280.1" text-anchor="middle" textLength="19.3" lengthAdjust="spacing">1970</text>
<text class="tl" x="312.5" y="280.1" text-anchor="middle" textLength="19.3" lengthAdjust="spacing">1975</text>
<text class="tl" x="334.6" y="280.1" text-anchor="middle" textLength="19.3" lengthAdjust="spacing">1980</text>
<text class="tl" x="356.8" y="280.1" text-anchor="middle" textLength="19.3" lengthAdjust="spacing">1985</text>
<text class="tl" x="378.9" y="280.1" text-anchor="middle" textLength="19.3" lengthAdjust="spacing">1990</text>
<text class="tl" x="401.0" y="280.1" text-anchor="middle" textLength="19.3" lengthAdjust="spacing">1995</text>
<text class="tl" x="423.1" y="280.1" text-anchor="middle" textLength="19.3" lengthAdjust="spacing">2000</text>
<text class="tl" x="445.3" y="280.1" text-anchor="middle" textLength="19.3" lengthAdjust="spacing">2005</text>
<text class="tl" x="467.4" y="280.1" text-anchor="middle" textLength="19.3" lengthAdjust="spacing">2010</text>
<text class="tl" x="489.5" y="280.1" text-anchor="middle" textLength="19.3" lengthAdjust="spacing">2015</text>
<text class="tl" x="287.6" y="253.45" text-anchor="end">–6</text>
<text class="tl" x="287.6" y="216.25" text-anchor="end">–4</text>
<text class="tl" x="287.6" y="179.05" text-anchor="end">–2</text>
<text class="tl" x="287.6" y="141.85" text-anchor="end">0</text>
<text class="tl" x="287.6" y="104.65" text-anchor="end">2</text>
<text class="tl" x="287.6" y="67.45" text-anchor="end">4</text>
<text class="tl" x="287.6" y="30.25" text-anchor="end">6</text>
<text class="yl" transform="translate(273.3,139.0) rotate(-90)" text-anchor="middle" textLength="90" lengthAdjust="spacing">Ozone anomaly, ppbv</text>
<text class="tt" x="299.4" y="39.4" textLength="65.8" lengthAdjust="spacing">Strath Vaich Dam</text>
<text class="lg" x="299.4" y="57.9" fill="#000000" textLength="26.4" lengthAdjust="spacing">lowess</text>
<text class="lg" x="299.4" y="72.0" fill="#1f6fe0" textLength="58.8" lengthAdjust="spacing">2nd order poly.</text>
<text class="lg" x="299.4" y="86.1" fill="#6a4fd0" textLength="56.5" lengthAdjust="spacing">3rd order poly.</text>
<text class="lg" x="299.4" y="100.1" fill="#24128f" textLength="56.5" lengthAdjust="spacing">4th order poly.</text>
<text class="lg" x="299.4" y="114.2" fill="#72ad1e" textLength="61.6" lengthAdjust="spacing">10th order poly.</text>
<text class="lg" x="299.4" y="128.3" fill="#ff7f12" textLength="61.6" lengthAdjust="spacing">20th order poly.</text>
</svg>
</body></html>
